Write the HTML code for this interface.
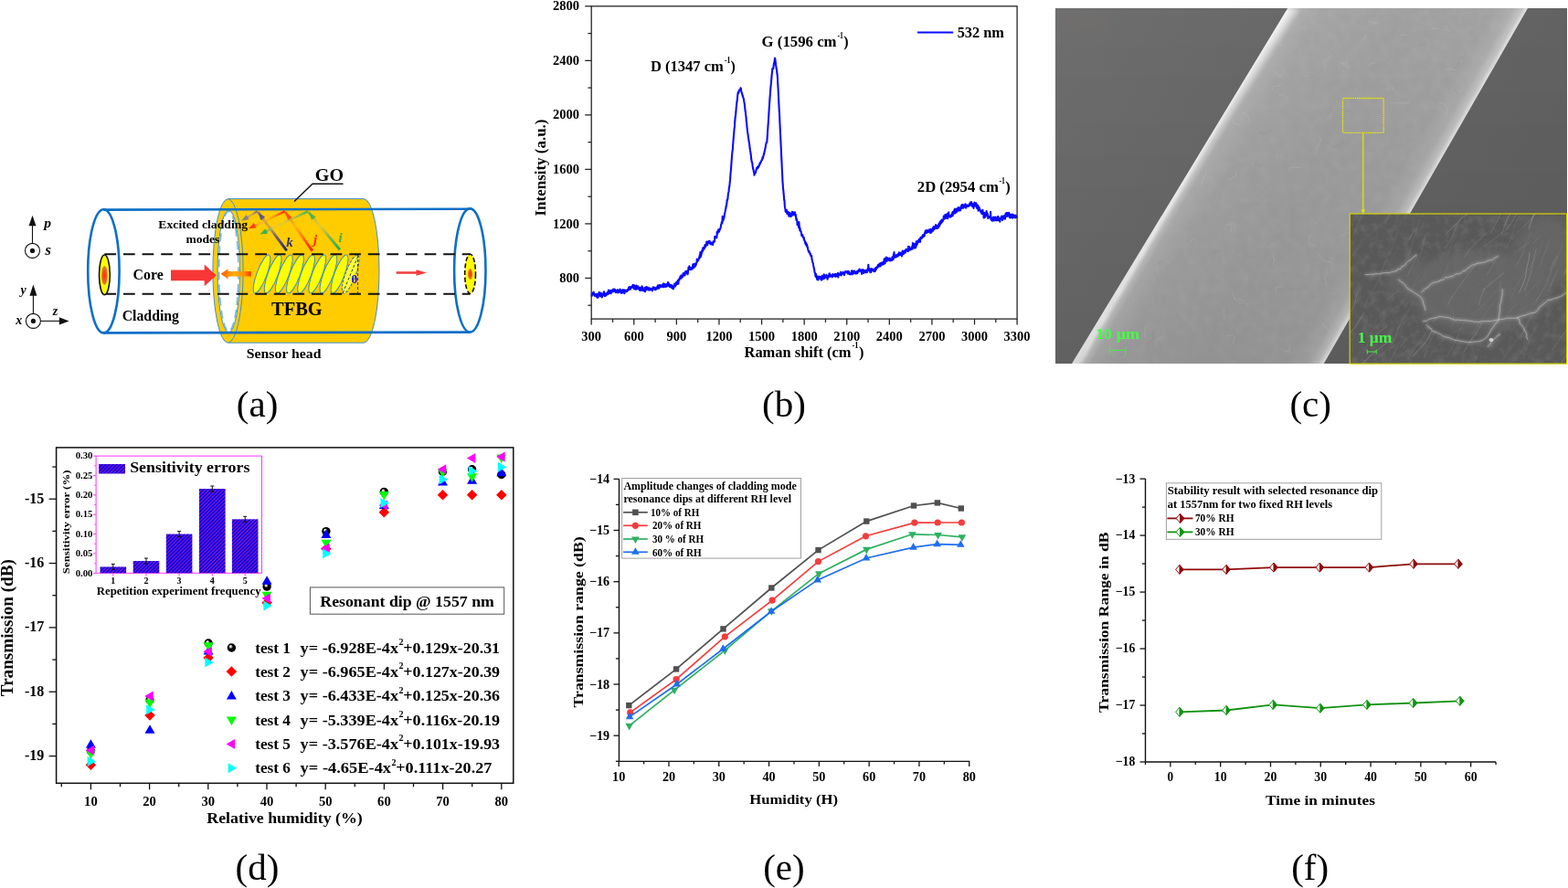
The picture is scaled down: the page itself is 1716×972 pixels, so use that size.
<!DOCTYPE html>
<html><head><meta charset="utf-8"><title>Figure</title>
<style>html,body{margin:0;padding:0;background:#fff;overflow:hidden}svg{display:block}</style>
</head><body>
<svg width="1716" height="972" viewBox="0 0 1716 972"><defs><radialGradient id="ball" cx="0.5" cy="0.5" r="0.5" fx="0.35" fy="0.3"><stop offset="0" stop-color="#fff"/><stop offset="0.22" stop-color="#ccc"/><stop offset="0.5" stop-color="#000"/><stop offset="1" stop-color="#000"/></radialGradient><pattern id="hatch" patternUnits="userSpaceOnUse" width="2.8" height="4" patternTransform="rotate(45)"><rect width="2.8" height="4" fill="#0a00f8"/><rect width="0.9" height="4" fill="#a0209a"/></pattern><radialGradient id="coreg" cx="0.5" cy="0.5" r="0.5"><stop offset="0" stop-color="#ff2a1a"/><stop offset="0.6" stop-color="#f05a20"/><stop offset="1" stop-color="#e08a2a"/></radialGradient><linearGradient id="arrg" x1="0" y1="0" x2="1" y2="0"><stop offset="0" stop-color="#ff5a00"/><stop offset="0.45" stop-color="#ffb000"/><stop offset="0.8" stop-color="#ff8a00"/><stop offset="1" stop-color="#ff3000"/></linearGradient><linearGradient id="gk1" gradientUnits="userSpaceOnUse" x1="313.8" y1="274" x2="281.7" y2="231.3"><stop offset="0" stop-color="#2a2a6a"/><stop offset="0.55" stop-color="#7a6a80"/><stop offset="1" stop-color="#c8a868"/></linearGradient><linearGradient id="gk2" gradientUnits="userSpaceOnUse" x1="281.7" y1="231.3" x2="264" y2="242"><stop offset="0" stop-color="#5a4a70"/><stop offset="1" stop-color="#a09078"/></linearGradient><linearGradient id="gj1" gradientUnits="userSpaceOnUse" x1="341.8" y1="274.7" x2="311.7" y2="231.3"><stop offset="0" stop-color="#ff1a00"/><stop offset="0.6" stop-color="#ff7a20"/><stop offset="1" stop-color="#ff5a10"/></linearGradient><linearGradient id="gj2" gradientUnits="userSpaceOnUse" x1="311.7" y1="231.3" x2="272" y2="250"><stop offset="0" stop-color="#ff2a00"/><stop offset="0.5" stop-color="#ffa000"/><stop offset="1" stop-color="#ff5010"/></linearGradient><linearGradient id="gi1" gradientUnits="userSpaceOnUse" x1="371.9" y1="273.3" x2="336.9" y2="231.3"><stop offset="0" stop-color="#2aa85a"/><stop offset="0.6" stop-color="#b8b060"/><stop offset="1" stop-color="#5ab050"/></linearGradient><linearGradient id="gi2" gradientUnits="userSpaceOnUse" x1="336.9" y1="231.3" x2="285" y2="256"><stop offset="0" stop-color="#4ab050"/><stop offset="0.4" stop-color="#e8c060"/><stop offset="1" stop-color="#6ab84a"/></linearGradient><linearGradient id="gin0" gradientUnits="userSpaceOnUse" x1="313.8" y1="274.4" x2="282.34" y2="232.16"><stop offset="0" stop-color="#26266a" stop-opacity="1"/><stop offset="0.35" stop-color="#5a5080" stop-opacity="0.9"/><stop offset="0.65" stop-color="#b09070" stop-opacity="0.55"/><stop offset="1" stop-color="#7a6a80" stop-opacity="0.8"/></linearGradient><linearGradient id="gout0" gradientUnits="userSpaceOnUse" x1="281.7" y1="231.3" x2="268.49" y2="239.23"><stop offset="0" stop-color="#6a5a80" stop-opacity="0.9"/><stop offset="0.5" stop-color="#b09a80" stop-opacity="0.6"/><stop offset="1" stop-color="#9a8a88" stop-opacity="0.8"/></linearGradient><linearGradient id="gin1" gradientUnits="userSpaceOnUse" x1="341.8" y1="274.7" x2="312.3" y2="232.17"><stop offset="0" stop-color="#ff1a00" stop-opacity="1"/><stop offset="0.35" stop-color="#ff6a10" stop-opacity="0.9"/><stop offset="0.65" stop-color="#ffa020" stop-opacity="0.5"/><stop offset="1" stop-color="#ff5010" stop-opacity="0.9"/></linearGradient><linearGradient id="gout1" gradientUnits="userSpaceOnUse" x1="311.7" y1="231.3" x2="276.42" y2="248.06"><stop offset="0" stop-color="#ff2000" stop-opacity="1"/><stop offset="0.45" stop-color="#ff9a20" stop-opacity="0.6"/><stop offset="0.75" stop-color="#ffb030" stop-opacity="0.4"/><stop offset="1" stop-color="#ff5010" stop-opacity="0.9"/></linearGradient><linearGradient id="gin2" gradientUnits="userSpaceOnUse" x1="371.9" y1="273.3" x2="337.6" y2="232.14"><stop offset="0" stop-color="#18b050" stop-opacity="1"/><stop offset="0.35" stop-color="#60b060" stop-opacity="0.8"/><stop offset="0.65" stop-color="#d0c070" stop-opacity="0.4"/><stop offset="1" stop-color="#50b050" stop-opacity="0.85"/></linearGradient><linearGradient id="gout2" gradientUnits="userSpaceOnUse" x1="336.9" y1="231.3" x2="289.01" y2="254.33"><stop offset="0" stop-color="#40b050" stop-opacity="1"/><stop offset="0.4" stop-color="#a0c060" stop-opacity="0.5"/><stop offset="0.75" stop-color="#d0c878" stop-opacity="0.35"/><stop offset="1" stop-color="#40b050" stop-opacity="0.9"/></linearGradient><clipPath id="semclip"><rect x="1155" y="9" width="560" height="389"/></clipPath><clipPath id="insclip"><rect x="1477.2" y="234" width="237.4" height="164.2"/></clipPath><linearGradient id="semBg" x1="0" y1="0" x2="1" y2="0.3"><stop offset="0" stop-color="#6f6f6f"/><stop offset="0.5" stop-color="#686868"/><stop offset="1" stop-color="#626262"/></linearGradient><linearGradient id="fib" gradientUnits="userSpaceOnUse" x1="1295" y1="200" x2="1496.8" y2="316.5"><stop offset="0" stop-color="#f0f0f0"/><stop offset="0.006" stop-color="#e2e2e2"/><stop offset="0.02" stop-color="#c4c4c4"/><stop offset="0.05" stop-color="#b0b0b0"/><stop offset="0.15" stop-color="#a5a5a5"/><stop offset="0.5" stop-color="#a0a0a0"/><stop offset="0.85" stop-color="#a2a2a2"/><stop offset="0.93" stop-color="#adadad"/><stop offset="0.97" stop-color="#c4c4c4"/><stop offset="0.99" stop-color="#e6e6e6"/><stop offset="1" stop-color="#f2f2f2"/></linearGradient><linearGradient id="semV" x1="0" y1="0" x2="0" y2="1"><stop offset="0" stop-color="#000" stop-opacity="0"/><stop offset="1" stop-color="#000" stop-opacity="0.09"/></linearGradient><filter id="blur3" x="-50%" y="-50%" width="200%" height="200%"><feGaussianBlur stdDeviation="6"/></filter><filter id="blur1" x="-20%" y="-20%" width="140%" height="140%"><feGaussianBlur stdDeviation="0.45"/></filter><filter id="grain" x="0" y="0" width="100%" height="100%"><feTurbulence type="fractalNoise" baseFrequency="0.09" numOctaves="3" seed="4" result="n"/><feColorMatrix in="n" type="matrix" values="0 0 0 0 0.5  0 0 0 0 0.5  0 0 0 0 0.5  1.6 0 0 0 -0.55" result="m"/><feComposite in="m" in2="SourceGraphic" operator="in"/></filter><linearGradient id="hlV" gradientUnits="userSpaceOnUse" x1="0" y1="9" x2="0" y2="398"><stop offset="0" stop-color="#fff" stop-opacity="0.36"/><stop offset="0.35" stop-color="#fff" stop-opacity="0.16"/><stop offset="1" stop-color="#fff" stop-opacity="0.14"/></linearGradient><clipPath id="fibclip"><path d="M1409.3 9 L1671.9 9 L1448.8 398 L1173.1 398 Z"/></clipPath><filter id="blurH" x="-20%" y="-5%" width="140%" height="110%"><feGaussianBlur stdDeviation="2.2"/></filter><filter id="blur2" x="-30%" y="-30%" width="160%" height="160%"><feGaussianBlur stdDeviation="1.6"/></filter><filter id="grain2" x="0" y="0" width="100%" height="100%"><feTurbulence type="fractalNoise" baseFrequency="0.11" numOctaves="3" seed="9" result="n"/><feColorMatrix in="n" type="matrix" values="0 0 0 0 0.6  0 0 0 0 0.6  0 0 0 0 0.6  1.8 0 0 0 -0.75" result="m"/><feComposite in="m" in2="SourceGraphic" operator="in"/></filter></defs><path d="M647.6 324.61 L647.9 321.4 L648.2 322.07 L648.5 322.42 L648.8 320.49 L649.1 321.56 L649.4 321.72 L649.7 319.67 L650 322.51 L650.3 323.14 L650.6 321.66 L650.9 322.27 L651.2 323.95 L651.5 323.12 L651.8 323.37 L652.1 322.11 L652.4 324.38 L652.7 323.79 L653 323.89 L653.3 321.88 L653.6 325.58 L653.9 323.51 L654.2 322.76 L654.5 325.6 L654.8 323.57 L655.1 321.59 L655.4 322.53 L655.7 319.9 L656 323.41 L656.3 321.85 L656.6 322.17 L656.9 324.2 L657.2 320.86 L657.5 323.33 L657.8 320.73 L658.1 322.8 L658.4 322.11 L658.7 325.41 L659 324.9 L659.3 322.47 L659.6 323.43 L659.9 321.83 L660.2 322.6 L660.5 320.43 L660.8 319.58 L661.1 319.27 L661.4 321.89 L661.7 323.99 L662 322.07 L662.3 321.49 L662.6 324.05 L662.9 322.3 L663.2 322.56 L663.5 322.78 L663.8 322.28 L664.1 321.94 L664.4 320.24 L664.7 322.38 L665 321.56 L665.3 320.48 L665.6 320.33 L665.9 317.57 L666.2 319.35 L666.5 321.44 L666.8 319.5 L667.1 318.93 L667.4 318.27 L667.7 318.05 L668 318.81 L668.3 318.09 L668.6 321.1 L668.9 318.31 L669.2 318.2 L669.5 319.48 L669.8 319.6 L670.1 317.52 L670.4 318.7 L670.7 319.11 L671 317.98 L671.3 316.49 L671.6 318.81 L671.9 319.09 L672.2 318.32 L672.5 316.54 L672.8 317.08 L673.1 317.04 L673.4 317.39 L673.7 319.41 L674 320.22 L674.3 318.81 L674.6 319.12 L674.9 319.36 L675.2 318.27 L675.5 317.74 L675.8 317.12 L676.1 317.87 L676.4 320.49 L676.7 319.54 L677 318.02 L677.3 317.98 L677.6 317.73 L677.9 319.53 L678.2 319.35 L678.5 316.63 L678.8 319 L679.1 317.63 L679.4 320.1 L679.7 318.83 L680 320.92 L680.3 317.87 L680.6 318.54 L680.9 319.26 L681.2 320.4 L681.5 319.52 L681.8 317.16 L682.1 318.79 L682.4 318.57 L682.7 318.41 L683 318.15 L683.3 321.14 L683.6 317.95 L683.9 317.33 L684.2 319.3 L684.5 318.68 L684.8 318.17 L685.1 319.13 L685.4 318.46 L685.7 318.38 L686 319.11 L686.3 318.1 L686.6 317 L686.9 317.1 L687.2 317.14 L687.5 317.57 L687.8 315.82 L688.1 314.67 L688.4 317.09 L688.7 315.15 L689 314.05 L689.3 316.4 L689.6 314.92 L689.9 316.61 L690.2 315.13 L690.5 314.41 L690.8 313.95 L691.1 314.95 L691.4 314.75 L691.7 314.13 L692 314.53 L692.3 312.28 L692.6 314.04 L692.9 311.85 L693.2 313.86 L693.5 315 L693.8 315.72 L694.1 316.19 L694.4 312.29 L694.7 315.58 L695 316.55 L695.3 316.22 L695.6 314.1 L695.9 315.25 L696.2 316.76 L696.5 312.6 L696.8 315.44 L697.1 316.22 L697.4 313.98 L697.7 315.45 L698 313.32 L698.3 313.92 L698.6 314.37 L698.9 316.18 L699.2 315.52 L699.5 316.93 L699.8 314.91 L700.1 316.47 L700.4 317.99 L700.7 317.75 L701 314.98 L701.3 317.51 L701.6 316.2 L701.9 317.72 L702.2 317.1 L702.5 313.37 L702.8 316.74 L703.1 314.4 L703.4 315.36 L703.7 317.89 L704 316.87 L704.3 318.3 L704.6 317.77 L704.9 316.46 L705.2 318.57 L705.5 316.26 L705.8 314.71 L706.1 319.13 L706.4 314.48 L706.7 317.1 L707 317.47 L707.3 316.25 L707.6 314.04 L707.9 317.03 L708.2 314.2 L708.5 314.54 L708.8 315.1 L709.1 316.9 L709.4 316.6 L709.7 317.54 L710 316.09 L710.3 316.37 L710.6 315.17 L710.9 316.4 L711.2 317.61 L711.5 316.63 L711.8 317.23 L712.1 315.94 L712.4 315.75 L712.7 316.6 L713 316.35 L713.3 317.25 L713.6 316.94 L713.9 318.37 L714.2 315.79 L714.5 315.6 L714.8 314.22 L715.1 315.74 L715.4 316.45 L715.7 314.57 L716 315.07 L716.3 316.3 L716.6 315.29 L716.9 315.14 L717.2 317.33 L717.5 315.62 L717.8 315.97 L718.1 316.68 L718.4 316.59 L718.7 314.47 L719 314.19 L719.3 314.7 L719.6 314.19 L719.9 312.4 L720.2 315.79 L720.5 314 L720.8 314.7 L721.1 312.45 L721.4 315.52 L721.7 313.51 L722 313.53 L722.3 311.8 L722.6 313.29 L722.9 313.33 L723.2 313.49 L723.5 314.01 L723.8 313.21 L724.1 313.67 L724.4 312.22 L724.7 311.71 L725 313.19 L725.3 313.84 L725.6 314.22 L725.9 313.61 L726.2 310.29 L726.5 313.17 L726.8 314.23 L727.1 312.36 L727.4 311.04 L727.7 312.09 L728 311.41 L728.3 313.2 L728.6 312.47 L728.9 314.04 L729.2 312.71 L729.5 310.99 L729.8 312.72 L730.1 313.11 L730.4 311.38 L730.7 311.38 L731 308.95 L731.3 312.86 L731.6 311.3 L731.9 310.15 L732.2 310.85 L732.5 312.87 L732.8 313.94 L733.1 312.8 L733.4 313.85 L733.7 311.72 L734 311.87 L734.3 314.22 L734.6 313.86 L734.9 313.21 L735.2 315 L735.5 312.19 L735.8 313.63 L736.1 315.39 L736.4 316.12 L736.7 314.1 L737 316.24 L737.3 313.36 L737.6 313.99 L737.9 313.27 L738.2 310.59 L738.5 312.82 L738.8 313.71 L739.1 311.82 L739.4 311.27 L739.7 312.46 L740 309.17 L740.3 308.76 L740.6 309.69 L740.9 308.57 L741.2 310.89 L741.5 308.97 L741.8 307.05 L742.1 306.76 L742.4 310.64 L742.7 306.28 L743 305.47 L743.3 306.17 L743.6 306.34 L743.9 305.34 L744.2 303.51 L744.5 302.69 L744.8 304.64 L745.1 303.74 L745.4 301.47 L745.7 304.52 L746 303.88 L746.3 302.56 L746.6 302.46 L746.9 303.31 L747.2 301.37 L747.5 299.36 L747.8 301.38 L748.1 299.6 L748.4 301.5 L748.7 299.01 L749 300.1 L749.3 299.59 L749.6 301.42 L749.9 298.25 L750.2 297.14 L750.5 297.92 L750.8 296.96 L751.1 297.39 L751.4 298.14 L751.7 298.44 L752 299.46 L752.3 296.37 L752.6 300.31 L752.9 298.6 L753.2 295.86 L753.5 292.91 L753.8 295.14 L754.1 294.83 L754.4 291.41 L754.7 293.91 L755 293.42 L755.3 292.83 L755.6 294.9 L755.9 295.21 L756.2 293.58 L756.5 294.48 L756.8 293.5 L757.1 292.93 L757.4 293.99 L757.7 294.49 L758 291.72 L758.3 289.42 L758.6 292.36 L758.9 289.23 L759.2 291.34 L759.5 293.09 L759.8 290.68 L760.1 288.67 L760.4 288.64 L760.7 291.74 L761 289.97 L761.3 290.47 L761.6 290.17 L761.9 288.67 L762.2 288.07 L762.5 286.89 L762.8 283.51 L763.1 284.31 L763.4 286.11 L763.7 285.22 L764 285.3 L764.3 284.31 L764.6 283.67 L764.9 283.56 L765.2 281.34 L765.5 281.88 L765.8 279.03 L766.1 281.9 L766.4 275.93 L766.7 280 L767 280.77 L767.3 279.57 L767.6 277.47 L767.9 277.67 L768.2 274.22 L768.5 275.54 L768.8 274.44 L769.1 271.6 L769.4 274.46 L769.7 271.64 L770 272.59 L770.3 270.83 L770.6 272.38 L770.9 272.06 L771.2 269.18 L771.5 268 L771.8 269.48 L772.1 270.33 L772.4 268.86 L772.7 267.71 L773 268.6 L773.3 264.65 L773.6 267.54 L773.9 266.6 L774.2 268.26 L774.5 266.2 L774.8 264.94 L775.1 265.72 L775.4 264.02 L775.7 265.39 L776 263.78 L776.3 264.14 L776.6 263.89 L776.9 266.41 L777.2 265.39 L777.5 266.69 L777.8 267.15 L778.1 265.53 L778.4 267.52 L778.7 267.06 L779 266.78 L779.3 265.86 L779.6 265.68 L779.9 266.67 L780.2 268.01 L780.5 264.26 L780.8 265.36 L781.1 263.97 L781.4 265.01 L781.7 264.13 L782 264.19 L782.3 258.81 L782.6 260.39 L782.9 259.51 L783.2 260.36 L783.5 259.48 L783.8 258.99 L784.1 259.6 L784.4 260.3 L784.7 253.89 L785 256.09 L785.3 255.69 L785.6 254.39 L785.9 252.82 L786.2 251.24 L786.5 251.9 L786.8 253.67 L787.1 253.67 L787.4 251.91 L787.7 250.64 L788 251.13 L788.3 249.87 L788.6 249.3 L788.9 247.75 L789.2 245.6 L789.5 245.28 L789.8 243.02 L790.1 244.49 L790.4 244.18 L790.7 236.77 L791 241.83 L791.3 238.99 L791.6 240.91 L791.9 239.69 L792.2 237.72 L792.5 238.1 L792.8 235.57 L793.1 234.01 L793.4 232.48 L793.7 231.14 L794 229.17 L794.3 228.72 L794.6 225.53 L794.9 225.74 L795.2 224.05 L795.5 221.11 L795.8 218.39 L796.1 218.9 L796.4 217.95 L796.7 214.08 L797 211.24 L797.3 210.54 L797.6 209.41 L797.9 205.19 L798.2 204.51 L798.5 202 L798.8 198.92 L799.1 196.38 L799.4 191.07 L799.7 188.25 L800 184.96 L800.3 180.58 L800.6 176.54 L800.9 172.32 L801.2 169.16 L801.5 165.77 L801.8 164.26 L802.1 159.8 L802.4 155.75 L802.7 151.76 L803 147.9 L803.3 145.04 L803.6 140.85 L803.9 139.26 L804.2 133.78 L804.5 130.11 L804.8 127.34 L805.1 125.69 L805.4 122.71 L805.7 118.3 L806 115.59 L806.3 112.56 L806.6 111.06 L806.9 108.37 L807.2 104.77 L807.5 102.02 L807.8 101.26 L808.1 100.37 L808.4 101.75 L808.7 100.24 L809 98.45 L809.3 98.47 L809.6 98.18 L809.9 98.08 L810.2 98.04 L810.5 96.28 L810.8 96.62 L811.1 99.25 L811.4 100.31 L811.7 101.3 L812 102.43 L812.3 102.91 L812.6 104.85 L812.9 104.76 L813.2 106.58 L813.5 107.09 L813.8 107.52 L814.1 110.11 L814.4 111.58 L814.7 112.75 L815 115.66 L815.3 118.58 L815.6 121.32 L815.9 122.9 L816.2 126.14 L816.5 127.59 L816.8 132.86 L817.1 134.5 L817.4 137.86 L817.7 140.92 L818 143.7 L818.3 145.71 L818.6 147.1 L818.9 150.32 L819.2 151.74 L819.5 154.5 L819.8 155.38 L820.1 157.29 L820.4 160.42 L820.7 163.02 L821 164.85 L821.3 166.21 L821.6 168.77 L821.9 170.86 L822.2 174.03 L822.5 175.62 L822.8 177.28 L823.1 177.91 L823.4 179.09 L823.7 181.88 L824 184.17 L824.3 185.09 L824.6 186.05 L824.9 188.11 L825.2 188.56 L825.5 191.74 L825.8 190.04 L826.1 188.95 L826.4 189.11 L826.7 188.66 L827 189.11 L827.3 186.63 L827.6 186.7 L827.9 184.92 L828.2 183.9 L828.5 183.84 L828.8 184.54 L829.1 182.46 L829.4 183.66 L829.7 183.74 L830 181.99 L830.3 182.57 L830.6 181.48 L830.9 181.32 L831.2 179.67 L831.5 180.19 L831.8 178.14 L832.1 178.8 L832.4 177.46 L832.7 177.38 L833 176.99 L833.3 175.65 L833.6 175.28 L833.9 175.14 L834.2 174.62 L834.5 172.41 L834.8 173.29 L835.1 172.22 L835.4 170.49 L835.7 170.47 L836 168.02 L836.3 168.18 L836.6 166 L836.9 165.08 L837.2 164.17 L837.5 161.91 L837.8 160.72 L838.1 158.4 L838.4 157.63 L838.7 156.04 L839 156.05 L839.3 155.6 L839.6 151.64 L839.9 147.71 L840.2 142.51 L840.5 138.22 L840.8 134.02 L841.1 129.84 L841.4 124.3 L841.7 119.31 L842 115.22 L842.3 110.12 L842.6 105.98 L842.9 103.04 L843.2 97.86 L843.5 94.66 L843.8 92.3 L844.1 88.02 L844.4 84.89 L844.7 81.1 L845 79.7 L845.3 75.27 L845.6 74.98 L845.9 74.49 L846.2 75.09 L846.5 73.03 L846.8 71.03 L847.1 68.9 L847.4 67.69 L847.7 65.89 L848 63.53 L848.3 64.47 L848.6 66.55 L848.9 69.13 L849.2 71.71 L849.5 73.46 L849.8 75.8 L850.1 76.82 L850.4 80.56 L850.7 81.99 L851 85.98 L851.3 92.55 L851.6 97.55 L851.9 103.06 L852.2 110.33 L852.5 116.27 L852.8 121.66 L853.1 126.27 L853.4 133.95 L853.7 140.25 L854 146.2 L854.3 152.18 L854.6 158.73 L854.9 165.14 L855.2 172.13 L855.5 177.39 L855.8 184.44 L856.1 189.81 L856.4 197.75 L856.7 201.65 L857 205.93 L857.3 208.42 L857.6 211.64 L857.9 215.02 L858.2 219.05 L858.5 218.97 L858.8 225.14 L859.1 227.4 L859.4 228.75 L859.7 231.77 L860 230.45 L860.3 232.01 L860.6 230.09 L860.9 229.78 L861.2 232.31 L861.5 234.17 L861.8 232.9 L862.1 233.75 L862.4 232.56 L862.7 231.9 L863 233.48 L863.3 236.68 L863.6 233.43 L863.9 234.76 L864.2 233.12 L864.5 235.61 L864.8 236.8 L865.1 234.07 L865.4 234.97 L865.7 237.01 L866 234.86 L866.3 233.77 L866.6 233.27 L866.9 231.8 L867.2 234.75 L867.5 233.27 L867.8 235.54 L868.1 234.51 L868.4 232.63 L868.7 232.37 L869 233.5 L869.3 233.01 L869.6 233.44 L869.9 232.22 L870.2 235.9 L870.5 235.24 L870.8 234.9 L871.1 237.98 L871.4 240.67 L871.7 239.04 L872 241.17 L872.3 241.08 L872.6 246.1 L872.9 244.18 L873.2 244.61 L873.5 244.7 L873.8 245.35 L874.1 249.09 L874.4 242.99 L874.7 247.36 L875 248.39 L875.3 252.09 L875.6 250.01 L875.9 252.21 L876.2 252.76 L876.5 253.9 L876.8 253.77 L877.1 256.42 L877.4 258.05 L877.7 257.02 L878 256.95 L878.3 257 L878.6 259.3 L878.9 259.18 L879.2 260.08 L879.5 260.88 L879.8 259.93 L880.1 262.81 L880.4 262.82 L880.7 263.68 L881 264.87 L881.3 266.43 L881.6 265.8 L881.9 265.42 L882.2 268.36 L882.5 267.45 L882.8 267.72 L883.1 267.29 L883.4 270.51 L883.7 269.95 L884 271.48 L884.3 273.41 L884.6 273.88 L884.9 275.68 L885.2 275.48 L885.5 274.87 L885.8 275.68 L886.1 276.31 L886.4 278.05 L886.7 277.62 L887 277.84 L887.3 280.15 L887.6 280.23 L887.9 280.86 L888.2 279.92 L888.5 283.53 L888.8 284.59 L889.1 286.28 L889.4 287.29 L889.7 287.92 L890 289.78 L890.3 291.5 L890.6 292.57 L890.9 294.12 L891.2 295.22 L891.5 297.84 L891.8 298.63 L892.1 298.82 L892.4 301.89 L892.7 303.01 L893 299.85 L893.3 302.74 L893.6 303.51 L893.9 303.14 L894.2 305.96 L894.5 302.52 L894.8 304.81 L895.1 304.96 L895.4 306.4 L895.7 304.96 L896 303.56 L896.3 302.5 L896.6 303.38 L896.9 304.48 L897.2 304.26 L897.5 303.89 L897.8 303.18 L898.1 303.99 L898.4 305.87 L898.7 303.5 L899 304.92 L899.3 306.57 L899.6 301.72 L899.9 303.68 L900.2 305.27 L900.5 303.36 L900.8 303.61 L901.1 305.05 L901.4 305.15 L901.7 300.37 L902 302.84 L902.3 304.72 L902.6 301.48 L902.9 302.47 L903.2 303.84 L903.5 301.84 L903.8 303.09 L904.1 303.05 L904.4 300.82 L904.7 303.4 L905 302.93 L905.3 304.14 L905.6 305.78 L905.9 303.57 L906.2 302.16 L906.5 302.87 L906.8 302.69 L907.1 303.17 L907.4 299.54 L907.7 300.08 L908 299.37 L908.3 302.78 L908.6 302.15 L908.9 301.28 L909.2 301.18 L909.5 301.7 L909.8 301.54 L910.1 302.37 L910.4 301.46 L910.7 303.35 L911 301.62 L911.3 300.15 L911.6 300.57 L911.9 302.13 L912.2 301.46 L912.5 301.04 L912.8 301.85 L913.1 300.67 L913.4 300.43 L913.7 301.14 L914 299.86 L914.3 303.01 L914.6 301.76 L914.9 301.04 L915.2 300.65 L915.5 302.16 L915.8 300.47 L916.1 300.11 L916.4 302.21 L916.7 299.21 L917 298.85 L917.3 303.55 L917.6 300.07 L917.9 299.91 L918.2 299.76 L918.5 300.26 L918.8 300.7 L919.1 300.84 L919.4 300.13 L919.7 298.98 L920 297.85 L920.3 300.06 L920.6 301.39 L920.9 300.47 L921.2 299.44 L921.5 300.32 L921.8 299.23 L922.1 299.36 L922.4 297.8 L922.7 298.81 L923 299.09 L923.3 298.78 L923.6 299.63 L923.9 301.17 L924.2 299.95 L924.5 298.3 L924.8 297.45 L925.1 296.99 L925.4 297.04 L925.7 297.95 L926 298.23 L926.3 297.57 L926.6 298.13 L926.9 297.93 L927.2 297.41 L927.5 296.92 L927.8 299.58 L928.1 299.01 L928.4 296.86 L928.7 297.07 L929 297.85 L929.3 298.39 L929.6 300.07 L929.9 299.59 L930.2 299.67 L930.5 300.13 L930.8 300.35 L931.1 299.94 L931.4 298.87 L931.7 298.2 L932 296.22 L932.3 298.09 L932.6 300.3 L932.9 297.26 L933.2 296.68 L933.5 298.31 L933.8 297.42 L934.1 296.88 L934.4 299.37 L934.7 298.08 L935 298.48 L935.3 296.56 L935.6 298.35 L935.9 298.5 L936.2 298.88 L936.5 299.64 L936.8 299.5 L937.1 298.37 L937.4 299.14 L937.7 297.13 L938 299.21 L938.3 299.08 L938.6 297.91 L938.9 296.88 L939.2 297.34 L939.5 295.75 L939.8 297.4 L940.1 296.8 L940.4 294.61 L940.7 295.42 L941 296.4 L941.3 296.64 L941.6 296.64 L941.9 295.69 L942.2 295.33 L942.5 295.92 L942.8 297.67 L943.1 299.9 L943.4 298.73 L943.7 298.79 L944 298.76 L944.3 295.04 L944.6 296.65 L944.9 296.23 L945.2 298.02 L945.5 298.84 L945.8 295.95 L946.1 296.76 L946.4 297.46 L946.7 296.34 L947 296.41 L947.3 296.3 L947.6 298.09 L947.9 295.79 L948.2 298.24 L948.5 296.6 L948.8 296.92 L949.1 297.97 L949.4 294.99 L949.7 294.02 L950 295.5 L950.3 289.82 L950.6 293.75 L950.9 295.34 L951.2 296.13 L951.5 294.26 L951.8 295.24 L952.1 297.09 L952.4 298.19 L952.7 294.26 L953 298.27 L953.3 297.27 L953.6 294.67 L953.9 294.06 L954.2 296.11 L954.5 295.03 L954.8 295.47 L955.1 296.26 L955.4 294.94 L955.7 295.19 L956 295.69 L956.3 296.26 L956.6 297.2 L956.9 297.02 L957.2 294.87 L957.5 293.94 L957.8 297.02 L958.1 295.17 L958.4 294.95 L958.7 292.77 L959 294.85 L959.3 292.82 L959.6 292.64 L959.9 291.87 L960.2 292.34 L960.5 292.94 L960.8 290.07 L961.1 290.53 L961.4 291.71 L961.7 289.59 L962 289.81 L962.3 289.88 L962.6 288.52 L962.9 291.48 L963.2 288.68 L963.5 291.37 L963.8 291.27 L964.1 287.89 L964.4 289.66 L964.7 288.65 L965 287.7 L965.3 288.27 L965.6 288.28 L965.9 289.35 L966.2 289.62 L966.5 286.61 L966.8 287.56 L967.1 288.37 L967.4 289.01 L967.7 283.43 L968 288.55 L968.3 282.94 L968.6 288.15 L968.9 285.13 L969.2 284.06 L969.5 285.05 L969.8 281.47 L970.1 285.18 L970.4 281.7 L970.7 285.97 L971 282.33 L971.3 283.48 L971.6 283.46 L971.9 282.78 L972.2 283.13 L972.5 283.48 L972.8 283.9 L973.1 285.14 L973.4 284.64 L973.7 282.51 L974 283.82 L974.3 285.4 L974.6 285.27 L974.9 283.87 L975.2 284.3 L975.5 283.98 L975.8 284.76 L976.1 285.04 L976.4 281.55 L976.7 281.3 L977 283.84 L977.3 283.66 L977.6 284.01 L977.9 278.28 L978.2 281.08 L978.5 276.11 L978.8 281.88 L979.1 280.63 L979.4 280.43 L979.7 279.92 L980 281.55 L980.3 279.39 L980.6 281.38 L980.9 280.87 L981.2 280.86 L981.5 280.83 L981.8 280.28 L982.1 278.53 L982.4 280.76 L982.7 279.74 L983 277.98 L983.3 279.7 L983.6 279.66 L983.9 276.37 L984.2 277.82 L984.5 277.37 L984.8 276.73 L985.1 279.02 L985.4 277.04 L985.7 276.86 L986 277.45 L986.3 277.67 L986.6 277.78 L986.9 280.39 L987.2 276.07 L987.5 276.84 L987.8 274.56 L988.1 277.02 L988.4 278.23 L988.7 278.26 L989 275.17 L989.3 275.04 L989.6 276.83 L989.9 275.18 L990.2 276.67 L990.5 274.04 L990.8 276.72 L991.1 275.63 L991.4 274.39 L991.7 272.73 L992 274.07 L992.3 274 L992.6 274.33 L992.9 272.94 L993.2 272.98 L993.5 273.4 L993.8 275.08 L994.1 269.79 L994.4 270.48 L994.7 270.96 L995 271.62 L995.3 270.18 L995.6 273.62 L995.9 273.08 L996.2 272.86 L996.5 272.01 L996.8 273.17 L997.1 272.13 L997.4 272.68 L997.7 271.07 L998 272.83 L998.3 269.46 L998.6 272.53 L998.9 266.09 L999.2 269.38 L999.5 268.31 L999.8 270.88 L1000.1 266.95 L1000.4 271.54 L1000.7 266.7 L1001 271.51 L1001.3 269.23 L1001.6 268.59 L1001.9 268.77 L1002.2 271.08 L1002.5 269.19 L1002.8 264.41 L1003.1 268.77 L1003.4 267.39 L1003.7 264.25 L1004 266.89 L1004.3 263.77 L1004.6 265.08 L1004.9 265.09 L1005.2 263.19 L1005.5 264.59 L1005.8 261.84 L1006.1 263.42 L1006.4 261.52 L1006.7 261.87 L1007 264.85 L1007.3 261.84 L1007.6 259.72 L1007.9 260.79 L1008.2 259.67 L1008.5 260.32 L1008.8 260.88 L1009.1 260.25 L1009.4 259.58 L1009.7 257.68 L1010 258.75 L1010.3 259.41 L1010.6 256.78 L1010.9 257.17 L1011.2 256.93 L1011.5 258.5 L1011.8 257.75 L1012.1 254.75 L1012.4 255.4 L1012.7 252.64 L1013 252.64 L1013.3 254.05 L1013.6 254.64 L1013.9 254.95 L1014.2 253.2 L1014.5 251.69 L1014.8 254.31 L1015.1 253.19 L1015.4 254.11 L1015.7 253.26 L1016 254.02 L1016.3 252.93 L1016.6 253.18 L1016.9 251.43 L1017.2 253.3 L1017.5 251.25 L1017.8 251.96 L1018.1 254.84 L1018.4 252.62 L1018.7 250.85 L1019 254.72 L1019.3 253.53 L1019.6 253.68 L1019.9 252.19 L1020.2 251.93 L1020.5 250.73 L1020.8 249.39 L1021.1 252.65 L1021.4 249.19 L1021.7 248.63 L1022 248.15 L1022.3 251.26 L1022.6 250.02 L1022.9 248.07 L1023.2 248.37 L1023.5 249.02 L1023.8 249.48 L1024.1 246.06 L1024.4 250.06 L1024.7 248.24 L1025 246.93 L1025.3 247.29 L1025.6 249.03 L1025.9 250.02 L1026.2 247.94 L1026.5 248.29 L1026.8 246.08 L1027.1 247.71 L1027.4 248.75 L1027.7 244.43 L1028 245.46 L1028.3 247.09 L1028.6 242.93 L1028.9 244.56 L1029.2 245.27 L1029.5 241.8 L1029.8 242.59 L1030.1 243.28 L1030.4 244.02 L1030.7 240.46 L1031 242.96 L1031.3 241.35 L1031.6 242.34 L1031.9 241.59 L1032.2 240.31 L1032.5 240.15 L1032.8 236.64 L1033.1 236.69 L1033.4 237.34 L1033.7 237.85 L1034 239.52 L1034.3 235.17 L1034.6 236.76 L1034.9 235.32 L1035.2 234.78 L1035.5 238.73 L1035.8 236.38 L1036.1 238.63 L1036.4 237.69 L1036.7 234.98 L1037 233.73 L1037.3 239.18 L1037.6 235.75 L1037.9 234.89 L1038.2 232.26 L1038.5 236.86 L1038.8 235.82 L1039.1 236.45 L1039.4 237.26 L1039.7 236.99 L1040 237.68 L1040.3 236.19 L1040.6 235.59 L1040.9 237.03 L1041.2 236.37 L1041.5 236.63 L1041.8 234.09 L1042.1 234.29 L1042.4 232.2 L1042.7 236.18 L1043 231.77 L1043.3 233.68 L1043.6 231.23 L1043.9 232.98 L1044.2 233.36 L1044.5 229.52 L1044.8 231.61 L1045.1 228.52 L1045.4 233.51 L1045.7 230.66 L1046 229.11 L1046.3 230.17 L1046.6 232.27 L1046.9 231.98 L1047.2 231.6 L1047.5 228.27 L1047.8 228.44 L1048.1 230.48 L1048.4 227.26 L1048.7 227.67 L1049 227.28 L1049.3 227.19 L1049.6 230.59 L1049.9 229.93 L1050.2 229.13 L1050.5 229.54 L1050.8 229.94 L1051.1 230.25 L1051.4 227.57 L1051.7 226.67 L1052 225.13 L1052.3 227.87 L1052.6 225.66 L1052.9 224.06 L1053.2 225.72 L1053.5 226.21 L1053.8 224.19 L1054.1 227.79 L1054.4 224.87 L1054.7 224.66 L1055 225.62 L1055.3 224.84 L1055.6 225.84 L1055.9 226.56 L1056.2 225.62 L1056.5 223.34 L1056.8 224.05 L1057.1 227.61 L1057.4 224.24 L1057.7 225.96 L1058 226.2 L1058.3 225.22 L1058.6 224.57 L1058.9 225.85 L1059.2 224.85 L1059.5 225.64 L1059.8 225.84 L1060.1 224.66 L1060.4 225.23 L1060.7 224.54 L1061 223.08 L1061.3 224.72 L1061.6 223.29 L1061.9 221.55 L1062.2 223.64 L1062.5 223.37 L1062.8 223.18 L1063.1 221.06 L1063.4 225.2 L1063.7 225.54 L1064 225.84 L1064.3 225.61 L1064.6 223.22 L1064.9 225.51 L1065.2 223.4 L1065.5 228.03 L1065.8 223.83 L1066.1 224.73 L1066.4 221.5 L1066.7 222.26 L1067 223.38 L1067.3 225.58 L1067.6 225.71 L1067.9 225.15 L1068.2 222.18 L1068.5 223.2 L1068.8 223.66 L1069.1 227.6 L1069.4 228.27 L1069.7 226.73 L1070 227.42 L1070.3 224.71 L1070.6 230.77 L1070.9 228.13 L1071.2 229.74 L1071.5 226.91 L1071.8 228.69 L1072.1 228.1 L1072.4 229.65 L1072.7 230.22 L1073 230.53 L1073.3 232.19 L1073.6 231.38 L1073.9 231.6 L1074.2 231.55 L1074.5 234.06 L1074.8 230.67 L1075.1 233.52 L1075.4 229.88 L1075.7 232.05 L1076 234.42 L1076.3 233.65 L1076.6 238.53 L1076.9 238.34 L1077.2 232.86 L1077.5 234.1 L1077.8 235.25 L1078.1 237.89 L1078.4 236.57 L1078.7 235.64 L1079 232.95 L1079.3 233.64 L1079.6 231.02 L1079.9 233.02 L1080.2 236.01 L1080.5 236.54 L1080.8 233.84 L1081.1 236.23 L1081.4 239.05 L1081.7 237.4 L1082 236.89 L1082.3 237.85 L1082.6 238.09 L1082.9 237.93 L1083.2 237.21 L1083.5 237.4 L1083.8 237.69 L1084.1 231.76 L1084.4 240.04 L1084.7 239.83 L1085 240.23 L1085.3 241.54 L1085.6 240.91 L1085.9 240.58 L1086.2 239.19 L1086.5 238.31 L1086.8 241.7 L1087.1 237.6 L1087.4 237.8 L1087.7 237.83 L1088 239.78 L1088.3 240.27 L1088.6 241.34 L1088.9 239.21 L1089.2 237.46 L1089.5 240.16 L1089.8 240.93 L1090.1 239.71 L1090.4 239.14 L1090.7 240.14 L1091 241.44 L1091.3 239.57 L1091.6 237.33 L1091.9 238.83 L1092.2 239.7 L1092.5 236.98 L1092.8 241.17 L1093.1 239.08 L1093.4 241.15 L1093.7 241.15 L1094 240.09 L1094.3 242.67 L1094.6 239.28 L1094.9 238.6 L1095.2 239.05 L1095.5 239.86 L1095.8 238.24 L1096.1 236.61 L1096.4 239.29 L1096.7 239.08 L1097 240.97 L1097.3 237.95 L1097.6 238.93 L1097.9 237.49 L1098.2 236.34 L1098.5 238.26 L1098.8 239.37 L1099.1 236.54 L1099.4 236.91 L1099.7 235.82 L1100 239.73 L1100.3 236.67 L1100.6 233.57 L1100.9 235.71 L1101.2 236.9 L1101.5 235.84 L1101.8 233.15 L1102.1 236.4 L1102.4 236.71 L1102.7 233 L1103 235.45 L1103.3 235.14 L1103.6 234.22 L1103.9 235.22 L1104.2 232.82 L1104.5 236.54 L1104.8 237.92 L1105.1 234.2 L1105.4 236.24 L1105.7 238.47 L1106 236.58 L1106.3 235.53 L1106.6 235.13 L1106.9 236.79 L1107.2 236.44 L1107.5 237.81 L1107.8 234.6 L1108.1 238.63 L1108.4 236.3 L1108.7 238.06 L1109 235.96 L1109.3 235.28 L1109.6 236.05 L1109.9 235.56 L1110.2 236.09 L1110.5 237.5 L1110.8 238.4 L1111.1 236.79 L1111.4 236.14 L1111.7 235.64 L1112 237.35 L1112.3 237.96 L1112.6 236.06" fill="none" stroke="#0a0aff" stroke-width="2.1" stroke-linejoin="round"/><rect x="647.2" y="6.8" width="465.9" height="342.3" fill="none" stroke="#262626" stroke-width="1.3"/><line x1="647.2" y1="349.1" x2="647.2" y2="355.4" stroke="#262626" stroke-width="1.3"/><text x="647.2" y="372.6" text-anchor="middle" textLength="21.75" lengthAdjust="spacingAndGlyphs" style='font-family:"Liberation Serif", "Times New Roman", serif;font-size:14.5px;font-weight:bold;font-style:normal' fill="#000">300</text><line x1="670.5" y1="349.1" x2="670.5" y2="352.9" stroke="#262626" stroke-width="1.3"/><line x1="693.79" y1="349.1" x2="693.79" y2="355.4" stroke="#262626" stroke-width="1.3"/><text x="693.79" y="372.6" text-anchor="middle" textLength="21.75" lengthAdjust="spacingAndGlyphs" style='font-family:"Liberation Serif", "Times New Roman", serif;font-size:14.5px;font-weight:bold;font-style:normal' fill="#000">600</text><line x1="717.09" y1="349.1" x2="717.09" y2="352.9" stroke="#262626" stroke-width="1.3"/><line x1="740.38" y1="349.1" x2="740.38" y2="355.4" stroke="#262626" stroke-width="1.3"/><text x="740.38" y="372.6" text-anchor="middle" textLength="21.75" lengthAdjust="spacingAndGlyphs" style='font-family:"Liberation Serif", "Times New Roman", serif;font-size:14.5px;font-weight:bold;font-style:normal' fill="#000">900</text><line x1="763.67" y1="349.1" x2="763.67" y2="352.9" stroke="#262626" stroke-width="1.3"/><line x1="786.97" y1="349.1" x2="786.97" y2="355.4" stroke="#262626" stroke-width="1.3"/><text x="786.97" y="372.6" text-anchor="middle" textLength="29" lengthAdjust="spacingAndGlyphs" style='font-family:"Liberation Serif", "Times New Roman", serif;font-size:14.5px;font-weight:bold;font-style:normal' fill="#000">1200</text><line x1="810.26" y1="349.1" x2="810.26" y2="352.9" stroke="#262626" stroke-width="1.3"/><line x1="833.56" y1="349.1" x2="833.56" y2="355.4" stroke="#262626" stroke-width="1.3"/><text x="833.56" y="372.6" text-anchor="middle" textLength="29" lengthAdjust="spacingAndGlyphs" style='font-family:"Liberation Serif", "Times New Roman", serif;font-size:14.5px;font-weight:bold;font-style:normal' fill="#000">1500</text><line x1="856.86" y1="349.1" x2="856.86" y2="352.9" stroke="#262626" stroke-width="1.3"/><line x1="880.15" y1="349.1" x2="880.15" y2="355.4" stroke="#262626" stroke-width="1.3"/><text x="880.15" y="372.6" text-anchor="middle" textLength="29" lengthAdjust="spacingAndGlyphs" style='font-family:"Liberation Serif", "Times New Roman", serif;font-size:14.5px;font-weight:bold;font-style:normal' fill="#000">1800</text><line x1="903.44" y1="349.1" x2="903.44" y2="352.9" stroke="#262626" stroke-width="1.3"/><line x1="926.74" y1="349.1" x2="926.74" y2="355.4" stroke="#262626" stroke-width="1.3"/><text x="926.74" y="372.6" text-anchor="middle" textLength="29" lengthAdjust="spacingAndGlyphs" style='font-family:"Liberation Serif", "Times New Roman", serif;font-size:14.5px;font-weight:bold;font-style:normal' fill="#000">2100</text><line x1="950.03" y1="349.1" x2="950.03" y2="352.9" stroke="#262626" stroke-width="1.3"/><line x1="973.33" y1="349.1" x2="973.33" y2="355.4" stroke="#262626" stroke-width="1.3"/><text x="973.33" y="372.6" text-anchor="middle" textLength="29" lengthAdjust="spacingAndGlyphs" style='font-family:"Liberation Serif", "Times New Roman", serif;font-size:14.5px;font-weight:bold;font-style:normal' fill="#000">2400</text><line x1="996.62" y1="349.1" x2="996.62" y2="352.9" stroke="#262626" stroke-width="1.3"/><line x1="1019.92" y1="349.1" x2="1019.92" y2="355.4" stroke="#262626" stroke-width="1.3"/><text x="1019.92" y="372.6" text-anchor="middle" textLength="29" lengthAdjust="spacingAndGlyphs" style='font-family:"Liberation Serif", "Times New Roman", serif;font-size:14.5px;font-weight:bold;font-style:normal' fill="#000">2700</text><line x1="1043.21" y1="349.1" x2="1043.21" y2="352.9" stroke="#262626" stroke-width="1.3"/><line x1="1066.51" y1="349.1" x2="1066.51" y2="355.4" stroke="#262626" stroke-width="1.3"/><text x="1066.51" y="372.6" text-anchor="middle" textLength="29" lengthAdjust="spacingAndGlyphs" style='font-family:"Liberation Serif", "Times New Roman", serif;font-size:14.5px;font-weight:bold;font-style:normal' fill="#000">3000</text><line x1="1089.8" y1="349.1" x2="1089.8" y2="352.9" stroke="#262626" stroke-width="1.3"/><line x1="1113.1" y1="349.1" x2="1113.1" y2="355.4" stroke="#262626" stroke-width="1.3"/><text x="1113.1" y="372.6" text-anchor="middle" textLength="29" lengthAdjust="spacingAndGlyphs" style='font-family:"Liberation Serif", "Times New Roman", serif;font-size:14.5px;font-weight:bold;font-style:normal' fill="#000">3300</text><line x1="647.2" y1="334.22" x2="643.4" y2="334.22" stroke="#262626" stroke-width="1.3"/><line x1="647.2" y1="304.45" x2="640.2" y2="304.45" stroke="#262626" stroke-width="1.3"/><text x="634" y="309.05" text-anchor="end" textLength="21.75" lengthAdjust="spacingAndGlyphs" style='font-family:"Liberation Serif", "Times New Roman", serif;font-size:14.5px;font-weight:bold;font-style:normal' fill="#000">800</text><line x1="647.2" y1="274.69" x2="643.4" y2="274.69" stroke="#262626" stroke-width="1.3"/><line x1="647.2" y1="244.92" x2="640.2" y2="244.92" stroke="#262626" stroke-width="1.3"/><text x="634" y="249.52" text-anchor="end" textLength="29" lengthAdjust="spacingAndGlyphs" style='font-family:"Liberation Serif", "Times New Roman", serif;font-size:14.5px;font-weight:bold;font-style:normal' fill="#000">1200</text><line x1="647.2" y1="215.16" x2="643.4" y2="215.16" stroke="#262626" stroke-width="1.3"/><line x1="647.2" y1="185.39" x2="640.2" y2="185.39" stroke="#262626" stroke-width="1.3"/><text x="634" y="189.99" text-anchor="end" textLength="29" lengthAdjust="spacingAndGlyphs" style='font-family:"Liberation Serif", "Times New Roman", serif;font-size:14.5px;font-weight:bold;font-style:normal' fill="#000">1600</text><line x1="647.2" y1="155.63" x2="643.4" y2="155.63" stroke="#262626" stroke-width="1.3"/><line x1="647.2" y1="125.86" x2="640.2" y2="125.86" stroke="#262626" stroke-width="1.3"/><text x="634" y="130.46" text-anchor="end" textLength="29" lengthAdjust="spacingAndGlyphs" style='font-family:"Liberation Serif", "Times New Roman", serif;font-size:14.5px;font-weight:bold;font-style:normal' fill="#000">2000</text><line x1="647.2" y1="96.1" x2="643.4" y2="96.1" stroke="#262626" stroke-width="1.3"/><line x1="647.2" y1="66.33" x2="640.2" y2="66.33" stroke="#262626" stroke-width="1.3"/><text x="634" y="70.93" text-anchor="end" textLength="29" lengthAdjust="spacingAndGlyphs" style='font-family:"Liberation Serif", "Times New Roman", serif;font-size:14.5px;font-weight:bold;font-style:normal' fill="#000">2400</text><line x1="647.2" y1="36.57" x2="643.4" y2="36.57" stroke="#262626" stroke-width="1.3"/><line x1="647.2" y1="6.8" x2="640.2" y2="6.8" stroke="#262626" stroke-width="1.3"/><text x="634" y="11.4" text-anchor="end" textLength="29" lengthAdjust="spacingAndGlyphs" style='font-family:"Liberation Serif", "Times New Roman", serif;font-size:14.5px;font-weight:bold;font-style:normal' fill="#000">2800</text><text x="814.5" y="390.8" textLength="117" lengthAdjust="spacingAndGlyphs" style='font-family:"Liberation Serif", "Times New Roman", serif;font-size:16.5px;font-weight:bold;font-style:normal' fill="#000">Raman shift (cm</text><text x="932.5" y="381" textLength="7" lengthAdjust="spacingAndGlyphs" style='font-family:"Liberation Serif", "Times New Roman", serif;font-size:10px;font-weight:bold;font-style:normal' fill="#000">-1</text><text x="940" y="390.8" style='font-family:"Liberation Serif", "Times New Roman", serif;font-size:16.5px;font-weight:bold;font-style:normal' fill="#000">)</text><text x="597" y="183.5" text-anchor="middle" textLength="106" lengthAdjust="spacingAndGlyphs" transform="rotate(-90 597 183.5)" style='font-family:"Liberation Serif", "Times New Roman", serif;font-size:17px;font-weight:bold;font-style:normal' fill="#000">Intensity (a.u.)</text><text x="711.9" y="78" textLength="80" lengthAdjust="spacingAndGlyphs" style='font-family:"Liberation Serif", "Times New Roman", serif;font-size:16px;font-weight:bold;font-style:normal' fill="#000">D (1347 cm</text><text x="793" y="68.5" textLength="6.5" lengthAdjust="spacingAndGlyphs" style='font-family:"Liberation Serif", "Times New Roman", serif;font-size:9.5px;font-weight:bold;font-style:normal' fill="#000">-1</text><text x="799.5" y="78" style='font-family:"Liberation Serif", "Times New Roman", serif;font-size:16px;font-weight:bold;font-style:normal' fill="#000">)</text><text x="833.6" y="51" textLength="82" lengthAdjust="spacingAndGlyphs" style='font-family:"Liberation Serif", "Times New Roman", serif;font-size:16px;font-weight:bold;font-style:normal' fill="#000">G (1596 cm</text><text x="916.5" y="41.5" textLength="6.5" lengthAdjust="spacingAndGlyphs" style='font-family:"Liberation Serif", "Times New Roman", serif;font-size:9.5px;font-weight:bold;font-style:normal' fill="#000">-1</text><text x="923.2" y="51" style='font-family:"Liberation Serif", "Times New Roman", serif;font-size:16px;font-weight:bold;font-style:normal' fill="#000">)</text><text x="1003.8" y="210.3" textLength="89" lengthAdjust="spacingAndGlyphs" style='font-family:"Liberation Serif", "Times New Roman", serif;font-size:16.5px;font-weight:bold;font-style:normal' fill="#000">2D (2954 cm</text><text x="1093.5" y="200.5" textLength="6.5" lengthAdjust="spacingAndGlyphs" style='font-family:"Liberation Serif", "Times New Roman", serif;font-size:9.5px;font-weight:bold;font-style:normal' fill="#000">-1</text><text x="1100.3" y="210.3" style='font-family:"Liberation Serif", "Times New Roman", serif;font-size:16.5px;font-weight:bold;font-style:normal' fill="#000">)</text><line x1="1004" y1="35.6" x2="1043.2" y2="35.6" stroke="#0a0aff" stroke-width="2"/><text x="1047.7" y="40.7" textLength="51.3" lengthAdjust="spacingAndGlyphs" style='font-family:"Liberation Serif", "Times New Roman", serif;font-size:16.5px;font-weight:bold;font-style:normal' fill="#000">532 nm</text><rect x="61.6" y="489.9" width="500.2" height="367.4" fill="none" stroke="#111" stroke-width="1.5"/><line x1="67.3" y1="857.3" x2="67.3" y2="861.3" stroke="#111" stroke-width="1.3"/><line x1="99.4" y1="857.3" x2="99.4" y2="864.3" stroke="#111" stroke-width="1.3"/><text x="99.4" y="882" text-anchor="middle" textLength="14.6" lengthAdjust="spacingAndGlyphs" style='font-family:"Liberation Serif", "Times New Roman", serif;font-size:14.5px;font-weight:bold;font-style:normal' fill="#000">10</text><line x1="131.5" y1="857.3" x2="131.5" y2="861.3" stroke="#111" stroke-width="1.3"/><line x1="163.6" y1="857.3" x2="163.6" y2="864.3" stroke="#111" stroke-width="1.3"/><text x="163.6" y="882" text-anchor="middle" textLength="14.6" lengthAdjust="spacingAndGlyphs" style='font-family:"Liberation Serif", "Times New Roman", serif;font-size:14.5px;font-weight:bold;font-style:normal' fill="#000">20</text><line x1="195.7" y1="857.3" x2="195.7" y2="861.3" stroke="#111" stroke-width="1.3"/><line x1="227.8" y1="857.3" x2="227.8" y2="864.3" stroke="#111" stroke-width="1.3"/><text x="227.8" y="882" text-anchor="middle" textLength="14.6" lengthAdjust="spacingAndGlyphs" style='font-family:"Liberation Serif", "Times New Roman", serif;font-size:14.5px;font-weight:bold;font-style:normal' fill="#000">30</text><line x1="259.9" y1="857.3" x2="259.9" y2="861.3" stroke="#111" stroke-width="1.3"/><line x1="292" y1="857.3" x2="292" y2="864.3" stroke="#111" stroke-width="1.3"/><text x="292" y="882" text-anchor="middle" textLength="14.6" lengthAdjust="spacingAndGlyphs" style='font-family:"Liberation Serif", "Times New Roman", serif;font-size:14.5px;font-weight:bold;font-style:normal' fill="#000">40</text><line x1="324.1" y1="857.3" x2="324.1" y2="861.3" stroke="#111" stroke-width="1.3"/><line x1="356.2" y1="857.3" x2="356.2" y2="864.3" stroke="#111" stroke-width="1.3"/><text x="356.2" y="882" text-anchor="middle" textLength="14.6" lengthAdjust="spacingAndGlyphs" style='font-family:"Liberation Serif", "Times New Roman", serif;font-size:14.5px;font-weight:bold;font-style:normal' fill="#000">50</text><line x1="388.3" y1="857.3" x2="388.3" y2="861.3" stroke="#111" stroke-width="1.3"/><line x1="420.4" y1="857.3" x2="420.4" y2="864.3" stroke="#111" stroke-width="1.3"/><text x="420.4" y="882" text-anchor="middle" textLength="14.6" lengthAdjust="spacingAndGlyphs" style='font-family:"Liberation Serif", "Times New Roman", serif;font-size:14.5px;font-weight:bold;font-style:normal' fill="#000">60</text><line x1="452.5" y1="857.3" x2="452.5" y2="861.3" stroke="#111" stroke-width="1.3"/><line x1="484.6" y1="857.3" x2="484.6" y2="864.3" stroke="#111" stroke-width="1.3"/><text x="484.6" y="882" text-anchor="middle" textLength="14.6" lengthAdjust="spacingAndGlyphs" style='font-family:"Liberation Serif", "Times New Roman", serif;font-size:14.5px;font-weight:bold;font-style:normal' fill="#000">70</text><line x1="516.7" y1="857.3" x2="516.7" y2="861.3" stroke="#111" stroke-width="1.3"/><line x1="548.8" y1="857.3" x2="548.8" y2="864.3" stroke="#111" stroke-width="1.3"/><text x="548.8" y="882" text-anchor="middle" textLength="14.6" lengthAdjust="spacingAndGlyphs" style='font-family:"Liberation Serif", "Times New Roman", serif;font-size:14.5px;font-weight:bold;font-style:normal' fill="#000">80</text><line x1="61.6" y1="511.03" x2="57.3" y2="511.03" stroke="#111" stroke-width="1.3"/><line x1="61.6" y1="546.2" x2="53.6" y2="546.2" stroke="#111" stroke-width="1.3"/><text x="48.3" y="550.5" text-anchor="end" textLength="21.4" lengthAdjust="spacingAndGlyphs" style='font-family:"Liberation Serif", "Times New Roman", serif;font-size:16px;font-weight:bold;font-style:normal' fill="#000">-15</text><line x1="61.6" y1="581.38" x2="57.3" y2="581.38" stroke="#111" stroke-width="1.3"/><line x1="61.6" y1="616.55" x2="53.6" y2="616.55" stroke="#111" stroke-width="1.3"/><text x="48.3" y="620.85" text-anchor="end" textLength="21.4" lengthAdjust="spacingAndGlyphs" style='font-family:"Liberation Serif", "Times New Roman", serif;font-size:16px;font-weight:bold;font-style:normal' fill="#000">-16</text><line x1="61.6" y1="651.73" x2="57.3" y2="651.73" stroke="#111" stroke-width="1.3"/><line x1="61.6" y1="686.9" x2="53.6" y2="686.9" stroke="#111" stroke-width="1.3"/><text x="48.3" y="691.2" text-anchor="end" textLength="21.4" lengthAdjust="spacingAndGlyphs" style='font-family:"Liberation Serif", "Times New Roman", serif;font-size:16px;font-weight:bold;font-style:normal' fill="#000">-17</text><line x1="61.6" y1="722.08" x2="57.3" y2="722.08" stroke="#111" stroke-width="1.3"/><line x1="61.6" y1="757.25" x2="53.6" y2="757.25" stroke="#111" stroke-width="1.3"/><text x="48.3" y="761.55" text-anchor="end" textLength="21.4" lengthAdjust="spacingAndGlyphs" style='font-family:"Liberation Serif", "Times New Roman", serif;font-size:16px;font-weight:bold;font-style:normal' fill="#000">-18</text><line x1="61.6" y1="792.42" x2="57.3" y2="792.42" stroke="#111" stroke-width="1.3"/><line x1="61.6" y1="827.6" x2="53.6" y2="827.6" stroke="#111" stroke-width="1.3"/><text x="48.3" y="831.9" text-anchor="end" textLength="21.4" lengthAdjust="spacingAndGlyphs" style='font-family:"Liberation Serif", "Times New Roman", serif;font-size:16px;font-weight:bold;font-style:normal' fill="#000">-19</text><text x="226.3" y="901" textLength="170.5" lengthAdjust="spacingAndGlyphs" style='font-family:"Liberation Serif", "Times New Roman", serif;font-size:17.5px;font-weight:bold;font-style:normal' fill="#000">Relative humidity (%)</text><text x="14" y="687.2" text-anchor="middle" textLength="150" lengthAdjust="spacingAndGlyphs" transform="rotate(-90 14 687.2)" style='font-family:"Liberation Serif", "Times New Roman", serif;font-size:18px;font-weight:bold;font-style:normal' fill="#000">Transmission (dB)</text><circle cx="99.4" cy="822" r="4.7" fill="url(#ball)"/><path d="M99.4 831.55 L105.15 837.3 L99.4 843.05 L93.65 837.3Z" fill="#ff0000" stroke="none" stroke-width="1"/><path d="M99.4 809.3 L104.9 818.8 L93.9 818.8Z" fill="#0000ff" stroke="none" stroke-width="1"/><path d="M99.4 830.7 L104.9 821.2 L93.9 821.2Z" fill="#00ff00" stroke="none" stroke-width="1"/><path d="M93.7 821.2 L103.2 815.7 L103.2 826.7Z" fill="#ff00ff" stroke="none" stroke-width="1"/><path d="M105.1 833.6 L95.6 828.1 L95.6 839.1Z" fill="#00ffff" stroke="none" stroke-width="1"/><circle cx="164" cy="766.2" r="4.7" fill="url(#ball)"/><path d="M164 777.25 L169.75 783 L164 788.75 L158.25 783Z" fill="#ff0000" stroke="none" stroke-width="1"/><path d="M164 793.3 L169.5 802.8 L158.5 802.8Z" fill="#0000ff" stroke="none" stroke-width="1"/><path d="M164 775.1 L169.5 765.6 L158.5 765.6Z" fill="#00ff00" stroke="none" stroke-width="1"/><path d="M158.3 762 L167.8 756.5 L167.8 767.5Z" fill="#ff00ff" stroke="none" stroke-width="1"/><path d="M169.7 776.8 L160.2 771.3 L160.2 782.3Z" fill="#00ffff" stroke="none" stroke-width="1"/><circle cx="228.1" cy="704" r="4.7" fill="url(#ball)"/><path d="M228.1 714.25 L233.85 720 L228.1 725.75 L222.35 720Z" fill="#ff0000" stroke="none" stroke-width="1"/><path d="M228.1 706.9 L233.6 716.4 L222.6 716.4Z" fill="#0000ff" stroke="none" stroke-width="1"/><path d="M228.1 712.7 L233.6 703.2 L222.6 703.2Z" fill="#00ff00" stroke="none" stroke-width="1"/><path d="M222.4 713.3 L231.9 707.8 L231.9 718.8Z" fill="#ff00ff" stroke="none" stroke-width="1"/><path d="M233.8 725 L224.3 719.5 L224.3 730.5Z" fill="#00ffff" stroke="none" stroke-width="1"/><circle cx="292.1" cy="642.1" r="4.7" fill="url(#ball)"/><path d="M292.1 654.05 L297.85 659.8 L292.1 665.55 L286.35 659.8Z" fill="#ff0000" stroke="none" stroke-width="1"/><path d="M292.1 630.2 L297.6 639.7 L286.6 639.7Z" fill="#0000ff" stroke="none" stroke-width="1"/><path d="M292.1 657.3 L297.6 647.8 L286.6 647.8Z" fill="#00ff00" stroke="none" stroke-width="1"/><path d="M286.4 655 L295.9 649.5 L295.9 660.5Z" fill="#ff00ff" stroke="none" stroke-width="1"/><path d="M297.8 663.1 L288.3 657.6 L288.3 668.6Z" fill="#00ffff" stroke="none" stroke-width="1"/><circle cx="356.9" cy="581.6" r="4.7" fill="url(#ball)"/><path d="M356.9 594.95 L362.65 600.7 L356.9 606.45 L351.15 600.7Z" fill="#ff0000" stroke="none" stroke-width="1"/><path d="M356.9 579.6 L362.4 589.1 L351.4 589.1Z" fill="#0000ff" stroke="none" stroke-width="1"/><path d="M356.9 600.3 L362.4 590.8 L351.4 590.8Z" fill="#00ff00" stroke="none" stroke-width="1"/><path d="M351.2 600.1 L360.7 594.6 L360.7 605.6Z" fill="#ff00ff" stroke="none" stroke-width="1"/><path d="M362.6 605.9 L353.1 600.4 L353.1 611.4Z" fill="#00ffff" stroke="none" stroke-width="1"/><circle cx="420.3" cy="538.4" r="4.7" fill="url(#ball)"/><path d="M420.3 554.95 L426.05 560.7 L420.3 566.45 L414.55 560.7Z" fill="#ff0000" stroke="none" stroke-width="1"/><path d="M420.3 547.6 L425.8 557.1 L414.8 557.1Z" fill="#0000ff" stroke="none" stroke-width="1"/><path d="M420.3 547.4 L425.8 537.9 L414.8 537.9Z" fill="#00ff00" stroke="none" stroke-width="1"/><path d="M414.6 553 L424.1 547.5 L424.1 558.5Z" fill="#ff00ff" stroke="none" stroke-width="1"/><path d="M426 550.5 L416.5 545 L416.5 556Z" fill="#00ffff" stroke="none" stroke-width="1"/><circle cx="484.5" cy="516.2" r="4.7" fill="url(#ball)"/><path d="M484.5 535.95 L490.25 541.7 L484.5 547.45 L478.75 541.7Z" fill="#ff0000" stroke="none" stroke-width="1"/><path d="M484.5 522 L490 531.5 L479 531.5Z" fill="#0000ff" stroke="none" stroke-width="1"/><path d="M484.5 522.7 L490 513.2 L479 513.2Z" fill="#00ff00" stroke="none" stroke-width="1"/><path d="M478.8 513.7 L488.3 508.2 L488.3 519.2Z" fill="#ff00ff" stroke="none" stroke-width="1"/><path d="M490.2 524.8 L480.7 519.3 L480.7 530.3Z" fill="#00ffff" stroke="none" stroke-width="1"/><circle cx="516.6" cy="513.7" r="4.7" fill="url(#ball)"/><path d="M516.6 535.95 L522.35 541.7 L516.6 547.45 L510.85 541.7Z" fill="#ff0000" stroke="none" stroke-width="1"/><path d="M516.6 520.3 L522.1 529.8 L511.1 529.8Z" fill="#0000ff" stroke="none" stroke-width="1"/><path d="M516.6 527.7 L522.1 518.2 L511.1 518.2Z" fill="#00ff00" stroke="none" stroke-width="1"/><path d="M510.9 501.4 L520.4 495.9 L520.4 506.9Z" fill="#ff00ff" stroke="none" stroke-width="1"/><path d="M522.3 515.4 L512.8 509.9 L512.8 520.9Z" fill="#00ffff" stroke="none" stroke-width="1"/><circle cx="548.8" cy="519.5" r="4.7" fill="url(#ball)"/><path d="M548.8 535.95 L554.55 541.7 L548.8 547.45 L543.05 541.7Z" fill="#ff0000" stroke="none" stroke-width="1"/><path d="M548.8 511.8 L554.3 521.3 L543.3 521.3Z" fill="#0000ff" stroke="none" stroke-width="1"/><path d="M548.8 507.1 L554.3 497.6 L543.3 497.6Z" fill="#00ff00" stroke="none" stroke-width="1"/><path d="M543.1 500.1 L552.6 494.6 L552.6 505.6Z" fill="#ff00ff" stroke="none" stroke-width="1"/><path d="M554.5 511.3 L545 505.8 L545 516.8Z" fill="#00ffff" stroke="none" stroke-width="1"/><circle cx="253.4" cy="709" r="4.7" fill="url(#ball)"/><text x="279.2" y="714.6" textLength="38.8" lengthAdjust="spacingAndGlyphs" style='font-family:"Liberation Serif", "Times New Roman", serif;font-size:17px;font-weight:bold;font-style:normal' fill="#000">test 1</text><text x="328.6" y="714.6" textLength="107.5" lengthAdjust="spacingAndGlyphs" style='font-family:"Liberation Serif", "Times New Roman", serif;font-size:17px;font-weight:bold;font-style:normal' fill="#000">y= -6.928E-4x</text><text x="436.4" y="705.8" textLength="5" lengthAdjust="spacingAndGlyphs" style='font-family:"Liberation Serif", "Times New Roman", serif;font-size:10px;font-weight:bold;font-style:normal' fill="#000">2</text><text x="441.3" y="714.6" textLength="105.8" lengthAdjust="spacingAndGlyphs" style='font-family:"Liberation Serif", "Times New Roman", serif;font-size:17px;font-weight:bold;font-style:normal' fill="#000">+0.129x-20.31</text><path d="M253.4 729.35 L259.15 735.1 L253.4 740.85 L247.65 735.1Z" fill="#ff0000" stroke="none" stroke-width="1"/><text x="279.2" y="740.7" textLength="38.8" lengthAdjust="spacingAndGlyphs" style='font-family:"Liberation Serif", "Times New Roman", serif;font-size:17px;font-weight:bold;font-style:normal' fill="#000">test 2</text><text x="328.6" y="740.7" textLength="107.5" lengthAdjust="spacingAndGlyphs" style='font-family:"Liberation Serif", "Times New Roman", serif;font-size:17px;font-weight:bold;font-style:normal' fill="#000">y= -6.965E-4x</text><text x="436.4" y="731.9" textLength="5" lengthAdjust="spacingAndGlyphs" style='font-family:"Liberation Serif", "Times New Roman", serif;font-size:10px;font-weight:bold;font-style:normal' fill="#000">2</text><text x="441.3" y="740.7" textLength="105.8" lengthAdjust="spacingAndGlyphs" style='font-family:"Liberation Serif", "Times New Roman", serif;font-size:17px;font-weight:bold;font-style:normal' fill="#000">+0.127x-20.39</text><path d="M253.4 756.1 L258.9 765.6 L247.9 765.6Z" fill="#0000ff" stroke="none" stroke-width="1"/><text x="279.2" y="767.4" textLength="38.8" lengthAdjust="spacingAndGlyphs" style='font-family:"Liberation Serif", "Times New Roman", serif;font-size:17px;font-weight:bold;font-style:normal' fill="#000">test 3</text><text x="328.6" y="767.4" textLength="107.5" lengthAdjust="spacingAndGlyphs" style='font-family:"Liberation Serif", "Times New Roman", serif;font-size:17px;font-weight:bold;font-style:normal' fill="#000">y= -6.433E-4x</text><text x="436.4" y="758.6" textLength="5" lengthAdjust="spacingAndGlyphs" style='font-family:"Liberation Serif", "Times New Roman", serif;font-size:10px;font-weight:bold;font-style:normal' fill="#000">2</text><text x="441.3" y="767.4" textLength="105.8" lengthAdjust="spacingAndGlyphs" style='font-family:"Liberation Serif", "Times New Roman", serif;font-size:17px;font-weight:bold;font-style:normal' fill="#000">+0.125x-20.36</text><path d="M253.4 794 L258.9 784.5 L247.9 784.5Z" fill="#00ff00" stroke="none" stroke-width="1"/><text x="279.2" y="793.9" textLength="38.8" lengthAdjust="spacingAndGlyphs" style='font-family:"Liberation Serif", "Times New Roman", serif;font-size:17px;font-weight:bold;font-style:normal' fill="#000">test 4</text><text x="328.6" y="793.9" textLength="107.5" lengthAdjust="spacingAndGlyphs" style='font-family:"Liberation Serif", "Times New Roman", serif;font-size:17px;font-weight:bold;font-style:normal' fill="#000">y= -5.339E-4x</text><text x="436.4" y="785.1" textLength="5" lengthAdjust="spacingAndGlyphs" style='font-family:"Liberation Serif", "Times New Roman", serif;font-size:10px;font-weight:bold;font-style:normal' fill="#000">2</text><text x="441.3" y="793.9" textLength="105.8" lengthAdjust="spacingAndGlyphs" style='font-family:"Liberation Serif", "Times New Roman", serif;font-size:17px;font-weight:bold;font-style:normal' fill="#000">+0.116x-20.19</text><path d="M247.7 814.4 L257.2 808.9 L257.2 819.9Z" fill="#ff00ff" stroke="none" stroke-width="1"/><text x="279.2" y="820" textLength="38.8" lengthAdjust="spacingAndGlyphs" style='font-family:"Liberation Serif", "Times New Roman", serif;font-size:17px;font-weight:bold;font-style:normal' fill="#000">test 5</text><text x="328.6" y="820" textLength="107.5" lengthAdjust="spacingAndGlyphs" style='font-family:"Liberation Serif", "Times New Roman", serif;font-size:17px;font-weight:bold;font-style:normal' fill="#000">y= -3.576E-4x</text><text x="436.4" y="811.2" textLength="5" lengthAdjust="spacingAndGlyphs" style='font-family:"Liberation Serif", "Times New Roman", serif;font-size:10px;font-weight:bold;font-style:normal' fill="#000">2</text><text x="441.3" y="820" textLength="105.8" lengthAdjust="spacingAndGlyphs" style='font-family:"Liberation Serif", "Times New Roman", serif;font-size:17px;font-weight:bold;font-style:normal' fill="#000">+0.101x-19.93</text><path d="M259.1 840.7 L249.6 835.2 L249.6 846.2Z" fill="#00ffff" stroke="none" stroke-width="1"/><text x="279.2" y="846.3" textLength="38.8" lengthAdjust="spacingAndGlyphs" style='font-family:"Liberation Serif", "Times New Roman", serif;font-size:17px;font-weight:bold;font-style:normal' fill="#000">test 6</text><text x="328.6" y="846.3" textLength="99.5" lengthAdjust="spacingAndGlyphs" style='font-family:"Liberation Serif", "Times New Roman", serif;font-size:17px;font-weight:bold;font-style:normal' fill="#000">y= -4.65E-4x</text><text x="428.4" y="837.5" textLength="5" lengthAdjust="spacingAndGlyphs" style='font-family:"Liberation Serif", "Times New Roman", serif;font-size:10px;font-weight:bold;font-style:normal' fill="#000">2</text><text x="433.3" y="846.3" textLength="105" lengthAdjust="spacingAndGlyphs" style='font-family:"Liberation Serif", "Times New Roman", serif;font-size:17px;font-weight:bold;font-style:normal' fill="#000">+0.111x-20.27</text><rect x="339.4" y="642.9" width="212.3" height="29.3" fill="#fff" stroke="#555" stroke-width="1"/><text x="350.3" y="664" textLength="190.6" lengthAdjust="spacingAndGlyphs" style='font-family:"Liberation Serif", "Times New Roman", serif;font-size:17.5px;font-weight:bold;font-style:normal' fill="#000">Resonant dip @ 1557 nm</text><rect x="105.1" y="499.1" width="181.4" height="128.2" fill="#fff" stroke="#ff33ff" stroke-width="1"/><rect x="109.5" y="620.46" width="28.6" height="6.84" fill="url(#hatch)"/><line x1="123.8" y1="617.46" x2="123.8" y2="623.46" stroke="#111" stroke-width="1"/><line x1="121.8" y1="617.46" x2="125.8" y2="617.46" stroke="#111" stroke-width="1"/><line x1="121.8" y1="623.46" x2="125.8" y2="623.46" stroke="#111" stroke-width="1"/><line x1="123.8" y1="627.3" x2="123.8" y2="630.3" stroke="#ff33ff" stroke-width="1"/><text x="123.8" y="638.7" text-anchor="middle" textLength="5" lengthAdjust="spacingAndGlyphs" style='font-family:"Liberation Serif", "Times New Roman", serif;font-size:9.5px;font-weight:bold;font-style:normal' fill="#000">1</text><rect x="145.7" y="614.05" width="28.6" height="13.25" fill="url(#hatch)"/><line x1="160" y1="611.05" x2="160" y2="617.05" stroke="#111" stroke-width="1"/><line x1="158" y1="611.05" x2="162" y2="611.05" stroke="#111" stroke-width="1"/><line x1="158" y1="617.05" x2="162" y2="617.05" stroke="#111" stroke-width="1"/><line x1="160" y1="627.3" x2="160" y2="630.3" stroke="#ff33ff" stroke-width="1"/><text x="160" y="638.7" text-anchor="middle" textLength="5" lengthAdjust="spacingAndGlyphs" style='font-family:"Liberation Serif", "Times New Roman", serif;font-size:9.5px;font-weight:bold;font-style:normal' fill="#000">2</text><rect x="181.8" y="584.57" width="28.6" height="42.73" fill="url(#hatch)"/><line x1="196.1" y1="581.57" x2="196.1" y2="587.57" stroke="#111" stroke-width="1"/><line x1="194.1" y1="581.57" x2="198.1" y2="581.57" stroke="#111" stroke-width="1"/><line x1="194.1" y1="587.57" x2="198.1" y2="587.57" stroke="#111" stroke-width="1"/><line x1="196.1" y1="627.3" x2="196.1" y2="630.3" stroke="#ff33ff" stroke-width="1"/><text x="196.1" y="638.7" text-anchor="middle" textLength="5" lengthAdjust="spacingAndGlyphs" style='font-family:"Liberation Serif", "Times New Roman", serif;font-size:9.5px;font-weight:bold;font-style:normal' fill="#000">3</text><rect x="218" y="535" width="28.6" height="92.3" fill="url(#hatch)"/><line x1="232.3" y1="532" x2="232.3" y2="538" stroke="#111" stroke-width="1"/><line x1="230.3" y1="532" x2="234.3" y2="532" stroke="#111" stroke-width="1"/><line x1="230.3" y1="538" x2="234.3" y2="538" stroke="#111" stroke-width="1"/><line x1="232.3" y1="627.3" x2="232.3" y2="630.3" stroke="#ff33ff" stroke-width="1"/><text x="232.3" y="638.7" text-anchor="middle" textLength="5" lengthAdjust="spacingAndGlyphs" style='font-family:"Liberation Serif", "Times New Roman", serif;font-size:9.5px;font-weight:bold;font-style:normal' fill="#000">4</text><rect x="253.9" y="568.33" width="28.6" height="58.97" fill="url(#hatch)"/><line x1="268.2" y1="565.33" x2="268.2" y2="571.33" stroke="#111" stroke-width="1"/><line x1="266.2" y1="565.33" x2="270.2" y2="565.33" stroke="#111" stroke-width="1"/><line x1="266.2" y1="571.33" x2="270.2" y2="571.33" stroke="#111" stroke-width="1"/><line x1="268.2" y1="627.3" x2="268.2" y2="630.3" stroke="#ff33ff" stroke-width="1"/><text x="268.2" y="638.7" text-anchor="middle" textLength="5" lengthAdjust="spacingAndGlyphs" style='font-family:"Liberation Serif", "Times New Roman", serif;font-size:9.5px;font-weight:bold;font-style:normal' fill="#000">5</text><line x1="105.1" y1="627.3" x2="102.1" y2="627.3" stroke="#ff33ff" stroke-width="1"/><text x="101.5" y="630.5" text-anchor="end" textLength="18.8" lengthAdjust="spacingAndGlyphs" style='font-family:"Liberation Serif", "Times New Roman", serif;font-size:9.5px;font-weight:bold;font-style:normal' fill="#000">0.00</text><line x1="105.1" y1="616.62" x2="103.1" y2="616.62" stroke="#ff33ff" stroke-width="0.8"/><line x1="105.1" y1="605.93" x2="102.1" y2="605.93" stroke="#ff33ff" stroke-width="1"/><text x="101.5" y="609.13" text-anchor="end" textLength="18.8" lengthAdjust="spacingAndGlyphs" style='font-family:"Liberation Serif", "Times New Roman", serif;font-size:9.5px;font-weight:bold;font-style:normal' fill="#000">0.05</text><line x1="105.1" y1="595.25" x2="103.1" y2="595.25" stroke="#ff33ff" stroke-width="0.8"/><line x1="105.1" y1="584.57" x2="102.1" y2="584.57" stroke="#ff33ff" stroke-width="1"/><text x="101.5" y="587.77" text-anchor="end" textLength="18.8" lengthAdjust="spacingAndGlyphs" style='font-family:"Liberation Serif", "Times New Roman", serif;font-size:9.5px;font-weight:bold;font-style:normal' fill="#000">0.10</text><line x1="105.1" y1="573.88" x2="103.1" y2="573.88" stroke="#ff33ff" stroke-width="0.8"/><line x1="105.1" y1="563.2" x2="102.1" y2="563.2" stroke="#ff33ff" stroke-width="1"/><text x="101.5" y="566.4" text-anchor="end" textLength="18.8" lengthAdjust="spacingAndGlyphs" style='font-family:"Liberation Serif", "Times New Roman", serif;font-size:9.5px;font-weight:bold;font-style:normal' fill="#000">0.15</text><line x1="105.1" y1="552.52" x2="103.1" y2="552.52" stroke="#ff33ff" stroke-width="0.8"/><line x1="105.1" y1="541.83" x2="102.1" y2="541.83" stroke="#ff33ff" stroke-width="1"/><text x="101.5" y="545.03" text-anchor="end" textLength="18.8" lengthAdjust="spacingAndGlyphs" style='font-family:"Liberation Serif", "Times New Roman", serif;font-size:9.5px;font-weight:bold;font-style:normal' fill="#000">0.20</text><line x1="105.1" y1="531.15" x2="103.1" y2="531.15" stroke="#ff33ff" stroke-width="0.8"/><line x1="105.1" y1="520.47" x2="102.1" y2="520.47" stroke="#ff33ff" stroke-width="1"/><text x="101.5" y="523.67" text-anchor="end" textLength="18.8" lengthAdjust="spacingAndGlyphs" style='font-family:"Liberation Serif", "Times New Roman", serif;font-size:9.5px;font-weight:bold;font-style:normal' fill="#000">0.25</text><line x1="105.1" y1="509.78" x2="103.1" y2="509.78" stroke="#ff33ff" stroke-width="0.8"/><line x1="105.1" y1="499.1" x2="102.1" y2="499.1" stroke="#ff33ff" stroke-width="1"/><text x="101.5" y="502.3" text-anchor="end" textLength="18.8" lengthAdjust="spacingAndGlyphs" style='font-family:"Liberation Serif", "Times New Roman", serif;font-size:9.5px;font-weight:bold;font-style:normal' fill="#000">0.30</text><text x="75.8" y="571.3" text-anchor="middle" textLength="113.7" lengthAdjust="spacingAndGlyphs" transform="rotate(-90 75.8 571.3)" style='font-family:"Liberation Serif", "Times New Roman", serif;font-size:11px;font-weight:bold;font-style:normal' fill="#000">Sensitivity error (%)</text><text x="105.8" y="650.6" textLength="179.8" lengthAdjust="spacingAndGlyphs" style='font-family:"Liberation Serif", "Times New Roman", serif;font-size:12.5px;font-weight:bold;font-style:normal' fill="#000">Repetition experiment frequency</text><rect x="108.1" y="508" width="28.9" height="10.5" fill="url(#hatch)"/><text x="142.2" y="517.1" textLength="131.2" lengthAdjust="spacingAndGlyphs" style='font-family:"Liberation Serif", "Times New Roman", serif;font-size:16.5px;font-weight:bold;font-style:normal' fill="#000">Sensitivity errors</text><line x1="677.5" y1="524.3" x2="677.5" y2="833.4" stroke="#111" stroke-width="1.4"/><line x1="677.5" y1="833.4" x2="1061.3" y2="833.4" stroke="#111" stroke-width="1.4"/><line x1="677.5" y1="524.3" x2="671.5" y2="524.3" stroke="#111" stroke-width="1.3"/><text x="667.1" y="528.9" text-anchor="end" textLength="22.2" lengthAdjust="spacingAndGlyphs" style='font-family:"Liberation Serif", "Times New Roman", serif;font-size:14.5px;font-weight:bold;font-style:normal' fill="#000">−14</text><line x1="677.5" y1="552.39" x2="673.9" y2="552.39" stroke="#111" stroke-width="1.3"/><line x1="677.5" y1="580.48" x2="671.5" y2="580.48" stroke="#111" stroke-width="1.3"/><text x="667.1" y="585.08" text-anchor="end" textLength="22.2" lengthAdjust="spacingAndGlyphs" style='font-family:"Liberation Serif", "Times New Roman", serif;font-size:14.5px;font-weight:bold;font-style:normal' fill="#000">−15</text><line x1="677.5" y1="608.57" x2="673.9" y2="608.57" stroke="#111" stroke-width="1.3"/><line x1="677.5" y1="636.66" x2="671.5" y2="636.66" stroke="#111" stroke-width="1.3"/><text x="667.1" y="641.26" text-anchor="end" textLength="22.2" lengthAdjust="spacingAndGlyphs" style='font-family:"Liberation Serif", "Times New Roman", serif;font-size:14.5px;font-weight:bold;font-style:normal' fill="#000">−16</text><line x1="677.5" y1="664.75" x2="673.9" y2="664.75" stroke="#111" stroke-width="1.3"/><line x1="677.5" y1="692.84" x2="671.5" y2="692.84" stroke="#111" stroke-width="1.3"/><text x="667.1" y="697.44" text-anchor="end" textLength="22.2" lengthAdjust="spacingAndGlyphs" style='font-family:"Liberation Serif", "Times New Roman", serif;font-size:14.5px;font-weight:bold;font-style:normal' fill="#000">−17</text><line x1="677.5" y1="720.93" x2="673.9" y2="720.93" stroke="#111" stroke-width="1.3"/><line x1="677.5" y1="749.02" x2="671.5" y2="749.02" stroke="#111" stroke-width="1.3"/><text x="667.1" y="753.62" text-anchor="end" textLength="22.2" lengthAdjust="spacingAndGlyphs" style='font-family:"Liberation Serif", "Times New Roman", serif;font-size:14.5px;font-weight:bold;font-style:normal' fill="#000">−18</text><line x1="677.5" y1="777.11" x2="673.9" y2="777.11" stroke="#111" stroke-width="1.3"/><line x1="677.5" y1="805.2" x2="671.5" y2="805.2" stroke="#111" stroke-width="1.3"/><text x="667.1" y="809.8" text-anchor="end" textLength="22.2" lengthAdjust="spacingAndGlyphs" style='font-family:"Liberation Serif", "Times New Roman", serif;font-size:14.5px;font-weight:bold;font-style:normal' fill="#000">−19</text><line x1="677.5" y1="833.29" x2="673.9" y2="833.29" stroke="#111" stroke-width="1.3"/><line x1="677.2" y1="833.4" x2="677.2" y2="838.9" stroke="#111" stroke-width="1.3"/><text x="677.2" y="855" text-anchor="middle" textLength="14.2" lengthAdjust="spacingAndGlyphs" style='font-family:"Liberation Serif", "Times New Roman", serif;font-size:14.5px;font-weight:bold;font-style:normal' fill="#000">10</text><line x1="704.6" y1="833.4" x2="704.6" y2="836.4" stroke="#111" stroke-width="1.3"/><line x1="731.99" y1="833.4" x2="731.99" y2="838.9" stroke="#111" stroke-width="1.3"/><text x="731.99" y="855" text-anchor="middle" textLength="14.2" lengthAdjust="spacingAndGlyphs" style='font-family:"Liberation Serif", "Times New Roman", serif;font-size:14.5px;font-weight:bold;font-style:normal' fill="#000">20</text><line x1="759.38" y1="833.4" x2="759.38" y2="836.4" stroke="#111" stroke-width="1.3"/><line x1="786.78" y1="833.4" x2="786.78" y2="838.9" stroke="#111" stroke-width="1.3"/><text x="786.78" y="855" text-anchor="middle" textLength="14.2" lengthAdjust="spacingAndGlyphs" style='font-family:"Liberation Serif", "Times New Roman", serif;font-size:14.5px;font-weight:bold;font-style:normal' fill="#000">30</text><line x1="814.18" y1="833.4" x2="814.18" y2="836.4" stroke="#111" stroke-width="1.3"/><line x1="841.57" y1="833.4" x2="841.57" y2="838.9" stroke="#111" stroke-width="1.3"/><text x="841.57" y="855" text-anchor="middle" textLength="14.2" lengthAdjust="spacingAndGlyphs" style='font-family:"Liberation Serif", "Times New Roman", serif;font-size:14.5px;font-weight:bold;font-style:normal' fill="#000">40</text><line x1="868.97" y1="833.4" x2="868.97" y2="836.4" stroke="#111" stroke-width="1.3"/><line x1="896.36" y1="833.4" x2="896.36" y2="838.9" stroke="#111" stroke-width="1.3"/><text x="896.36" y="855" text-anchor="middle" textLength="14.2" lengthAdjust="spacingAndGlyphs" style='font-family:"Liberation Serif", "Times New Roman", serif;font-size:14.5px;font-weight:bold;font-style:normal' fill="#000">50</text><line x1="923.76" y1="833.4" x2="923.76" y2="836.4" stroke="#111" stroke-width="1.3"/><line x1="951.15" y1="833.4" x2="951.15" y2="838.9" stroke="#111" stroke-width="1.3"/><text x="951.15" y="855" text-anchor="middle" textLength="14.2" lengthAdjust="spacingAndGlyphs" style='font-family:"Liberation Serif", "Times New Roman", serif;font-size:14.5px;font-weight:bold;font-style:normal' fill="#000">60</text><line x1="978.55" y1="833.4" x2="978.55" y2="836.4" stroke="#111" stroke-width="1.3"/><line x1="1005.94" y1="833.4" x2="1005.94" y2="838.9" stroke="#111" stroke-width="1.3"/><text x="1005.94" y="855" text-anchor="middle" textLength="14.2" lengthAdjust="spacingAndGlyphs" style='font-family:"Liberation Serif", "Times New Roman", serif;font-size:14.5px;font-weight:bold;font-style:normal' fill="#000">70</text><line x1="1033.34" y1="833.4" x2="1033.34" y2="836.4" stroke="#111" stroke-width="1.3"/><line x1="1060.73" y1="833.4" x2="1060.73" y2="838.9" stroke="#111" stroke-width="1.3"/><text x="1060.73" y="855" text-anchor="middle" textLength="14.2" lengthAdjust="spacingAndGlyphs" style='font-family:"Liberation Serif", "Times New Roman", serif;font-size:14.5px;font-weight:bold;font-style:normal' fill="#000">80</text><text x="868.6" y="880" text-anchor="middle" textLength="96.7" lengthAdjust="spacingAndGlyphs" style='font-family:"Liberation Serif", "Times New Roman", serif;font-size:15px;font-weight:bold;font-style:normal' fill="#000">Humidity (H)</text><text x="638.5" y="680.9" text-anchor="middle" textLength="187.2" lengthAdjust="spacingAndGlyphs" transform="rotate(-90 638.5 680.9)" style='font-family:"Liberation Serif", "Times New Roman", serif;font-size:15px;font-weight:bold;font-style:normal' fill="#000">Transmission range (dB)</text><path d="M688.3 772.1 L740.1 732.4 L791.5 688.4 L844.3 643.5 L895.5 602.1 L948.3 570.6 L1000 553.5 L1025.9 550.4 L1051.8 556.5" fill="none" stroke="#505050" stroke-width="1.7"/><rect x="685.1" y="768.9" width="6.4" height="6.4" fill="#505050"/><rect x="736.9" y="729.2" width="6.4" height="6.4" fill="#505050"/><rect x="788.3" y="685.2" width="6.4" height="6.4" fill="#505050"/><rect x="841.1" y="640.3" width="6.4" height="6.4" fill="#505050"/><rect x="892.3" y="598.9" width="6.4" height="6.4" fill="#505050"/><rect x="945.1" y="567.4" width="6.4" height="6.4" fill="#505050"/><rect x="996.8" y="550.3" width="6.4" height="6.4" fill="#505050"/><rect x="1022.7" y="547.2" width="6.4" height="6.4" fill="#505050"/><rect x="1048.6" y="553.3" width="6.4" height="6.4" fill="#505050"/><path d="M689.7 779.9 L740.1 743.6 L793.3 696.8 L845.1 657.1 L895.5 614.6 L947.5 586.8 L1000.9 572.1 L1026.2 572 L1052.4 572" fill="none" stroke="#f43c3c" stroke-width="1.7"/><circle cx="689.7" cy="779.9" r="3.6" fill="#f43c3c"/><circle cx="740.1" cy="743.6" r="3.6" fill="#f43c3c"/><circle cx="793.3" cy="696.8" r="3.6" fill="#f43c3c"/><circle cx="845.1" cy="657.1" r="3.6" fill="#f43c3c"/><circle cx="895.5" cy="614.6" r="3.6" fill="#f43c3c"/><circle cx="947.5" cy="586.8" r="3.6" fill="#f43c3c"/><circle cx="1000.9" cy="572.1" r="3.6" fill="#f43c3c"/><circle cx="1026.2" cy="572" r="3.6" fill="#f43c3c"/><circle cx="1052.4" cy="572" r="3.6" fill="#f43c3c"/><path d="M688.7 794.4 L738 755.3 L793.3 711.9 L844.3 668.9 L896.3 627.7 L948.3 601.4 L998.4 584.8 L1026.6 585.5 L1052.9 587.9" fill="none" stroke="#2eb062" stroke-width="1.7"/><path d="M688.7 799.46 L693 791.86 L684.4 791.86Z" fill="#2eb062" stroke="none" stroke-width="1"/><path d="M738 760.36 L742.3 752.76 L733.7 752.76Z" fill="#2eb062" stroke="none" stroke-width="1"/><path d="M793.3 716.96 L797.6 709.36 L789 709.36Z" fill="#2eb062" stroke="none" stroke-width="1"/><path d="M844.3 673.96 L848.6 666.36 L840 666.36Z" fill="#2eb062" stroke="none" stroke-width="1"/><path d="M896.3 632.76 L900.6 625.16 L892 625.16Z" fill="#2eb062" stroke="none" stroke-width="1"/><path d="M948.3 606.46 L952.6 598.86 L944 598.86Z" fill="#2eb062" stroke="none" stroke-width="1"/><path d="M998.4 589.86 L1002.7 582.26 L994.1 582.26Z" fill="#2eb062" stroke="none" stroke-width="1"/><path d="M1026.6 590.56 L1030.9 582.96 L1022.3 582.96Z" fill="#2eb062" stroke="none" stroke-width="1"/><path d="M1052.9 592.96 L1057.2 585.36 L1048.6 585.36Z" fill="#2eb062" stroke="none" stroke-width="1"/><path d="M689.1 784.6 L740.7 749 L791.3 710.3 L844.1 669.3 L894.7 634.9 L948 611 L999.6 599.1 L1025.6 595.6 L1051.3 596.3" fill="none" stroke="#1f6ef0" stroke-width="1.7"/><path d="M689.1 779.54 L693.4 787.14 L684.8 787.14Z" fill="#1f6ef0" stroke="none" stroke-width="1"/><path d="M740.7 743.94 L745 751.54 L736.4 751.54Z" fill="#1f6ef0" stroke="none" stroke-width="1"/><path d="M791.3 705.24 L795.6 712.84 L787 712.84Z" fill="#1f6ef0" stroke="none" stroke-width="1"/><path d="M844.1 664.24 L848.4 671.84 L839.8 671.84Z" fill="#1f6ef0" stroke="none" stroke-width="1"/><path d="M894.7 629.84 L899 637.44 L890.4 637.44Z" fill="#1f6ef0" stroke="none" stroke-width="1"/><path d="M948 605.94 L952.3 613.54 L943.7 613.54Z" fill="#1f6ef0" stroke="none" stroke-width="1"/><path d="M999.6 594.04 L1003.9 601.64 L995.3 601.64Z" fill="#1f6ef0" stroke="none" stroke-width="1"/><path d="M1025.6 590.54 L1029.9 598.14 L1021.3 598.14Z" fill="#1f6ef0" stroke="none" stroke-width="1"/><path d="M1051.3 591.24 L1055.6 598.84 L1047 598.84Z" fill="#1f6ef0" stroke="none" stroke-width="1"/><rect x="680.7" y="523.5" width="195.8" height="87.6" fill="#fff" stroke="#a0a0a0" stroke-width="1"/><text x="682.4" y="535.7" textLength="189.4" lengthAdjust="spacingAndGlyphs" style='font-family:"Liberation Serif", "Times New Roman", serif;font-size:12px;font-weight:bold;font-style:normal' fill="#000">Amplitude changes of cladding mode</text><text x="682.4" y="550.4" textLength="183.6" lengthAdjust="spacingAndGlyphs" style='font-family:"Liberation Serif", "Times New Roman", serif;font-size:12px;font-weight:bold;font-style:normal' fill="#000">resonance dips at different RH level</text><line x1="682.1" y1="560.8" x2="708.8" y2="560.8" stroke="#505050" stroke-width="1.7"/><rect x="692.1" y="557.5" width="6.6" height="6.6" fill="#505050"/><text x="712.1" y="564.8" textLength="53.2" lengthAdjust="spacingAndGlyphs" style='font-family:"Liberation Serif", "Times New Roman", serif;font-size:12.5px;font-weight:bold;font-style:normal' fill="#000">10% of RH</text><line x1="682.1" y1="575.3" x2="708.8" y2="575.3" stroke="#f43c3c" stroke-width="1.7"/><circle cx="695.4" cy="575.3" r="3.6" fill="#f43c3c"/><text x="713.9" y="579.2" textLength="53.6" lengthAdjust="spacingAndGlyphs" style='font-family:"Liberation Serif", "Times New Roman", serif;font-size:12.5px;font-weight:bold;font-style:normal' fill="#000">20% of RH</text><line x1="682.1" y1="590" x2="708.8" y2="590" stroke="#2eb062" stroke-width="1.7"/><path d="M695.4 595.06 L699.7 587.46 L691.1 587.46Z" fill="#2eb062" stroke="none" stroke-width="1"/><text x="713.9" y="593.9" textLength="56.3" lengthAdjust="spacingAndGlyphs" style='font-family:"Liberation Serif", "Times New Roman", serif;font-size:12.5px;font-weight:bold;font-style:normal' fill="#000">30 % of RH</text><line x1="682.1" y1="604.3" x2="708.8" y2="604.3" stroke="#1f6ef0" stroke-width="1.7"/><path d="M695.4 599.24 L699.7 606.84 L691.1 606.84Z" fill="#1f6ef0" stroke="none" stroke-width="1"/><text x="713.9" y="608.6" textLength="53.9" lengthAdjust="spacingAndGlyphs" style='font-family:"Liberation Serif", "Times New Roman", serif;font-size:12.5px;font-weight:bold;font-style:normal' fill="#000">60% of RH</text><line x1="1253.5" y1="524.1" x2="1253.5" y2="834" stroke="#111" stroke-width="1.4"/><line x1="1253.5" y1="834" x2="1637" y2="834" stroke="#111" stroke-width="1.4"/><line x1="1253.5" y1="524.1" x2="1247.5" y2="524.1" stroke="#111" stroke-width="1.3"/><text x="1242.3" y="528.5" text-anchor="end" textLength="21.5" lengthAdjust="spacingAndGlyphs" style='font-family:"Liberation Serif", "Times New Roman", serif;font-size:14.5px;font-weight:bold;font-style:normal' fill="#000">−13</text><line x1="1253.5" y1="555.09" x2="1249.9" y2="555.09" stroke="#111" stroke-width="1.3"/><line x1="1253.5" y1="586.08" x2="1247.5" y2="586.08" stroke="#111" stroke-width="1.3"/><text x="1242.3" y="590.48" text-anchor="end" textLength="21.5" lengthAdjust="spacingAndGlyphs" style='font-family:"Liberation Serif", "Times New Roman", serif;font-size:14.5px;font-weight:bold;font-style:normal' fill="#000">−14</text><line x1="1253.5" y1="617.07" x2="1249.9" y2="617.07" stroke="#111" stroke-width="1.3"/><line x1="1253.5" y1="648.06" x2="1247.5" y2="648.06" stroke="#111" stroke-width="1.3"/><text x="1242.3" y="652.46" text-anchor="end" textLength="21.5" lengthAdjust="spacingAndGlyphs" style='font-family:"Liberation Serif", "Times New Roman", serif;font-size:14.5px;font-weight:bold;font-style:normal' fill="#000">−15</text><line x1="1253.5" y1="679.05" x2="1249.9" y2="679.05" stroke="#111" stroke-width="1.3"/><line x1="1253.5" y1="710.04" x2="1247.5" y2="710.04" stroke="#111" stroke-width="1.3"/><text x="1242.3" y="714.44" text-anchor="end" textLength="21.5" lengthAdjust="spacingAndGlyphs" style='font-family:"Liberation Serif", "Times New Roman", serif;font-size:14.5px;font-weight:bold;font-style:normal' fill="#000">−16</text><line x1="1253.5" y1="741.03" x2="1249.9" y2="741.03" stroke="#111" stroke-width="1.3"/><line x1="1253.5" y1="772.02" x2="1247.5" y2="772.02" stroke="#111" stroke-width="1.3"/><text x="1242.3" y="776.42" text-anchor="end" textLength="21.5" lengthAdjust="spacingAndGlyphs" style='font-family:"Liberation Serif", "Times New Roman", serif;font-size:14.5px;font-weight:bold;font-style:normal' fill="#000">−17</text><line x1="1253.5" y1="803.01" x2="1249.9" y2="803.01" stroke="#111" stroke-width="1.3"/><line x1="1253.5" y1="834" x2="1247.5" y2="834" stroke="#111" stroke-width="1.3"/><text x="1242.3" y="838.4" text-anchor="end" textLength="21.5" lengthAdjust="spacingAndGlyphs" style='font-family:"Liberation Serif", "Times New Roman", serif;font-size:14.5px;font-weight:bold;font-style:normal' fill="#000">−18</text><line x1="1253.51" y1="834" x2="1253.51" y2="837" stroke="#111" stroke-width="1.3"/><line x1="1280.9" y1="834" x2="1280.9" y2="839.5" stroke="#111" stroke-width="1.3"/><text x="1280.9" y="855" text-anchor="middle" textLength="6.6" lengthAdjust="spacingAndGlyphs" style='font-family:"Liberation Serif", "Times New Roman", serif;font-size:14.5px;font-weight:bold;font-style:normal' fill="#000">0</text><line x1="1308.3" y1="834" x2="1308.3" y2="837" stroke="#111" stroke-width="1.3"/><line x1="1335.69" y1="834" x2="1335.69" y2="839.5" stroke="#111" stroke-width="1.3"/><text x="1335.69" y="855" text-anchor="middle" textLength="13.8" lengthAdjust="spacingAndGlyphs" style='font-family:"Liberation Serif", "Times New Roman", serif;font-size:14.5px;font-weight:bold;font-style:normal' fill="#000">10</text><line x1="1363.09" y1="834" x2="1363.09" y2="837" stroke="#111" stroke-width="1.3"/><line x1="1390.48" y1="834" x2="1390.48" y2="839.5" stroke="#111" stroke-width="1.3"/><text x="1390.48" y="855" text-anchor="middle" textLength="13.8" lengthAdjust="spacingAndGlyphs" style='font-family:"Liberation Serif", "Times New Roman", serif;font-size:14.5px;font-weight:bold;font-style:normal' fill="#000">20</text><line x1="1417.88" y1="834" x2="1417.88" y2="837" stroke="#111" stroke-width="1.3"/><line x1="1445.27" y1="834" x2="1445.27" y2="839.5" stroke="#111" stroke-width="1.3"/><text x="1445.27" y="855" text-anchor="middle" textLength="13.8" lengthAdjust="spacingAndGlyphs" style='font-family:"Liberation Serif", "Times New Roman", serif;font-size:14.5px;font-weight:bold;font-style:normal' fill="#000">30</text><line x1="1472.67" y1="834" x2="1472.67" y2="837" stroke="#111" stroke-width="1.3"/><line x1="1500.06" y1="834" x2="1500.06" y2="839.5" stroke="#111" stroke-width="1.3"/><text x="1500.06" y="855" text-anchor="middle" textLength="13.8" lengthAdjust="spacingAndGlyphs" style='font-family:"Liberation Serif", "Times New Roman", serif;font-size:14.5px;font-weight:bold;font-style:normal' fill="#000">40</text><line x1="1527.46" y1="834" x2="1527.46" y2="837" stroke="#111" stroke-width="1.3"/><line x1="1554.85" y1="834" x2="1554.85" y2="839.5" stroke="#111" stroke-width="1.3"/><text x="1554.85" y="855" text-anchor="middle" textLength="13.8" lengthAdjust="spacingAndGlyphs" style='font-family:"Liberation Serif", "Times New Roman", serif;font-size:14.5px;font-weight:bold;font-style:normal' fill="#000">50</text><line x1="1582.25" y1="834" x2="1582.25" y2="837" stroke="#111" stroke-width="1.3"/><line x1="1609.64" y1="834" x2="1609.64" y2="839.5" stroke="#111" stroke-width="1.3"/><text x="1609.64" y="855" text-anchor="middle" textLength="13.8" lengthAdjust="spacingAndGlyphs" style='font-family:"Liberation Serif", "Times New Roman", serif;font-size:14.5px;font-weight:bold;font-style:normal' fill="#000">60</text><line x1="1637.04" y1="834" x2="1637.04" y2="837" stroke="#111" stroke-width="1.3"/><text x="1445" y="880.8" text-anchor="middle" textLength="120" lengthAdjust="spacingAndGlyphs" style='font-family:"Liberation Serif", "Times New Roman", serif;font-size:15.5px;font-weight:bold;font-style:normal' fill="#000">Time in minutes</text><text x="1213.5" y="681.2" text-anchor="middle" textLength="197.4" lengthAdjust="spacingAndGlyphs" transform="rotate(-90 1213.5 681.2)" style='font-family:"Liberation Serif", "Times New Roman", serif;font-size:15px;font-weight:bold;font-style:normal' fill="#000">Transmission Range in dB</text><path d="M1290.9 623.4 L1342 623.4 L1393.9 621.1 L1444.3 621.1 L1498.4 621.1 L1547 617.3 L1595.9 617.3" fill="none" stroke="#8e0a0a" stroke-width="1.8"/><path d="M1290.9 618.4 L1295.2 623.4 L1290.9 628.4 L1286.6 623.4Z" fill="#fff" stroke="#8e0a0a" stroke-width="1"/><path d="M1290.9 618.4 L1295.2 623.4 L1290.9 628.4Z" fill="#8e0a0a" stroke="#8e0a0a" stroke-width="0.8"/><path d="M1342 618.4 L1346.3 623.4 L1342 628.4 L1337.7 623.4Z" fill="#fff" stroke="#8e0a0a" stroke-width="1"/><path d="M1342 618.4 L1346.3 623.4 L1342 628.4Z" fill="#8e0a0a" stroke="#8e0a0a" stroke-width="0.8"/><path d="M1393.9 616.1 L1398.2 621.1 L1393.9 626.1 L1389.6 621.1Z" fill="#fff" stroke="#8e0a0a" stroke-width="1"/><path d="M1393.9 616.1 L1398.2 621.1 L1393.9 626.1Z" fill="#8e0a0a" stroke="#8e0a0a" stroke-width="0.8"/><path d="M1444.3 616.1 L1448.6 621.1 L1444.3 626.1 L1440 621.1Z" fill="#fff" stroke="#8e0a0a" stroke-width="1"/><path d="M1444.3 616.1 L1448.6 621.1 L1444.3 626.1Z" fill="#8e0a0a" stroke="#8e0a0a" stroke-width="0.8"/><path d="M1498.4 616.1 L1502.7 621.1 L1498.4 626.1 L1494.1 621.1Z" fill="#fff" stroke="#8e0a0a" stroke-width="1"/><path d="M1498.4 616.1 L1502.7 621.1 L1498.4 626.1Z" fill="#8e0a0a" stroke="#8e0a0a" stroke-width="0.8"/><path d="M1547 612.3 L1551.3 617.3 L1547 622.3 L1542.7 617.3Z" fill="#fff" stroke="#8e0a0a" stroke-width="1"/><path d="M1547 612.3 L1551.3 617.3 L1547 622.3Z" fill="#8e0a0a" stroke="#8e0a0a" stroke-width="0.8"/><path d="M1595.9 612.3 L1600.2 617.3 L1595.9 622.3 L1591.6 617.3Z" fill="#fff" stroke="#8e0a0a" stroke-width="1"/><path d="M1595.9 612.3 L1600.2 617.3 L1595.9 622.3Z" fill="#8e0a0a" stroke="#8e0a0a" stroke-width="0.8"/><path d="M1290.9 779.3 L1342 777.5 L1393.2 771.4 L1444.8 775.2 L1495.9 771.4 L1546.6 769.5 L1597.7 767.3" fill="none" stroke="#119211" stroke-width="1.8"/><path d="M1290.9 774.3 L1295.2 779.3 L1290.9 784.3 L1286.6 779.3Z" fill="#fff" stroke="#119211" stroke-width="1"/><path d="M1290.9 774.3 L1295.2 779.3 L1290.9 784.3Z" fill="#119211" stroke="#119211" stroke-width="0.8"/><path d="M1342 772.5 L1346.3 777.5 L1342 782.5 L1337.7 777.5Z" fill="#fff" stroke="#119211" stroke-width="1"/><path d="M1342 772.5 L1346.3 777.5 L1342 782.5Z" fill="#119211" stroke="#119211" stroke-width="0.8"/><path d="M1393.2 766.4 L1397.5 771.4 L1393.2 776.4 L1388.9 771.4Z" fill="#fff" stroke="#119211" stroke-width="1"/><path d="M1393.2 766.4 L1397.5 771.4 L1393.2 776.4Z" fill="#119211" stroke="#119211" stroke-width="0.8"/><path d="M1444.8 770.2 L1449.1 775.2 L1444.8 780.2 L1440.5 775.2Z" fill="#fff" stroke="#119211" stroke-width="1"/><path d="M1444.8 770.2 L1449.1 775.2 L1444.8 780.2Z" fill="#119211" stroke="#119211" stroke-width="0.8"/><path d="M1495.9 766.4 L1500.2 771.4 L1495.9 776.4 L1491.6 771.4Z" fill="#fff" stroke="#119211" stroke-width="1"/><path d="M1495.9 766.4 L1500.2 771.4 L1495.9 776.4Z" fill="#119211" stroke="#119211" stroke-width="0.8"/><path d="M1546.6 764.5 L1550.9 769.5 L1546.6 774.5 L1542.3 769.5Z" fill="#fff" stroke="#119211" stroke-width="1"/><path d="M1546.6 764.5 L1550.9 769.5 L1546.6 774.5Z" fill="#119211" stroke="#119211" stroke-width="0.8"/><path d="M1597.7 762.3 L1602 767.3 L1597.7 772.3 L1593.4 767.3Z" fill="#fff" stroke="#119211" stroke-width="1"/><path d="M1597.7 762.3 L1602 767.3 L1597.7 772.3Z" fill="#119211" stroke="#119211" stroke-width="0.8"/><rect x="1276.4" y="528.8" width="235.4" height="61.5" fill="#fff" stroke="#a0a0a0" stroke-width="1"/><text x="1277.8" y="541.1" textLength="230.3" lengthAdjust="spacingAndGlyphs" style='font-family:"Liberation Serif", "Times New Roman", serif;font-size:12.5px;font-weight:bold;font-style:normal' fill="#000">Stability result with selected resonance dip</text><text x="1277.8" y="556.2" textLength="180.2" lengthAdjust="spacingAndGlyphs" style='font-family:"Liberation Serif", "Times New Roman", serif;font-size:12.5px;font-weight:bold;font-style:normal' fill="#000">at 1557nm for two fixed RH levels</text><line x1="1277.4" y1="567.4" x2="1305.5" y2="567.4" stroke="#8e0a0a" stroke-width="1.8"/><path d="M1291.5 562.4 L1295.8 567.4 L1291.5 572.4 L1287.2 567.4Z" fill="#fff" stroke="#8e0a0a" stroke-width="1"/><path d="M1291.5 562.4 L1295.8 567.4 L1291.5 572.4Z" fill="#8e0a0a" stroke="#8e0a0a" stroke-width="0.8"/><text x="1307.9" y="571.4" textLength="42.7" lengthAdjust="spacingAndGlyphs" style='font-family:"Liberation Serif", "Times New Roman", serif;font-size:12.5px;font-weight:bold;font-style:normal' fill="#000">70% RH</text><line x1="1277.4" y1="582.4" x2="1305.5" y2="582.4" stroke="#119211" stroke-width="1.8"/><path d="M1291.5 577.4 L1295.8 582.4 L1291.5 587.4 L1287.2 582.4Z" fill="#fff" stroke="#119211" stroke-width="1"/><path d="M1291.5 577.4 L1295.8 582.4 L1291.5 587.4Z" fill="#119211" stroke="#119211" stroke-width="0.8"/><text x="1307.9" y="586.4" textLength="42.7" lengthAdjust="spacingAndGlyphs" style='font-family:"Liberation Serif", "Times New Roman", serif;font-size:12.5px;font-weight:bold;font-style:normal' fill="#000">30% RH</text><ellipse cx="514.3" cy="296" rx="17.2" ry="67.6" fill="#fff" stroke="#0b6fc6" stroke-width="2.6"/><ellipse cx="398" cy="296.4" rx="17" ry="78.8" fill="#ffcc00" stroke="#3f8fd2" stroke-width="1"/><rect x="249.5" y="217.6" width="148.5" height="157.6" fill="#ffcc00"/><line x1="249.5" y1="217.6" x2="398" y2="217.6" stroke="#3f8fd2" stroke-width="1"/><line x1="249.5" y1="375.2" x2="398" y2="375.2" stroke="#3f8fd2" stroke-width="1"/><ellipse cx="249.5" cy="296.5" rx="16.6" ry="78.7" fill="#ffcc00" stroke="#3f8fd2" stroke-width="1"/><ellipse cx="250.3" cy="297" rx="12.2" ry="67" fill="#fff" stroke="#3f8fd2" stroke-width="1"/><ellipse cx="250.3" cy="297" rx="10.6" ry="65.5" fill="none" stroke="#7ab8e0" stroke-width="1.6" stroke-dasharray="9 5"/><ellipse cx="113.4" cy="296.8" rx="17.2" ry="67.6" fill="#fff" stroke="#0b6fc6" stroke-width="2.6"/><line x1="113.4" y1="229.6" x2="514.3" y2="228.8" stroke="#0b6fc6" stroke-width="2.6"/><line x1="113.4" y1="364.4" x2="514.3" y2="363.6" stroke="#0b6fc6" stroke-width="2.6"/><ellipse cx="286.5" cy="300" rx="5.5" ry="22.3" transform="rotate(20.5 286.5 300)" fill="#ffff00" stroke="#3a8cc0" stroke-width="1"/><ellipse cx="298.65" cy="300" rx="5.5" ry="22.3" transform="rotate(20.5 298.65 300)" fill="#ffff00" stroke="#3a8cc0" stroke-width="1"/><ellipse cx="310.8" cy="300" rx="5.5" ry="22.3" transform="rotate(20.5 310.8 300)" fill="#ffff00" stroke="#3a8cc0" stroke-width="1"/><ellipse cx="322.95" cy="300" rx="5.5" ry="22.3" transform="rotate(20.5 322.95 300)" fill="#ffff00" stroke="#3a8cc0" stroke-width="1"/><ellipse cx="335.1" cy="300" rx="5.5" ry="22.3" transform="rotate(20.5 335.1 300)" fill="#ffff00" stroke="#3a8cc0" stroke-width="1"/><ellipse cx="347.25" cy="300" rx="5.5" ry="22.3" transform="rotate(20.5 347.25 300)" fill="#ffff00" stroke="#3a8cc0" stroke-width="1"/><ellipse cx="359.4" cy="300" rx="5.5" ry="22.3" transform="rotate(20.5 359.4 300)" fill="#ffff00" stroke="#3a8cc0" stroke-width="1"/><ellipse cx="371.55" cy="300" rx="5.5" ry="22.3" transform="rotate(20.5 371.55 300)" fill="#ffff00" stroke="#3a8cc0" stroke-width="1"/><ellipse cx="383.7" cy="300" rx="5.5" ry="22.3" transform="rotate(20.5 383.7 300)" fill="#ffff3c" stroke="#3a6ca0" stroke-width="1" stroke-dasharray="3 1.5"/><line x1="375.2" y1="320.5" x2="392.2" y2="279.5" stroke="#222" stroke-width="0.9" stroke-dasharray="3 2"/><line x1="391.6" y1="279" x2="391.6" y2="321.5" stroke="#222" stroke-width="0.9" stroke-dasharray="3 2"/><text x="384.6" y="309.6" style='font-family:"Liberation Serif", "Times New Roman", serif;font-size:13px;font-weight:bold;font-style:normal' fill="#1010ff">θ</text><line x1="114.4" y1="278.2" x2="514.6" y2="278.2" stroke="#111" stroke-width="2" stroke-dasharray="12.7 7.9"/><line x1="114.4" y1="321.8" x2="514.6" y2="321.8" stroke="#111" stroke-width="2" stroke-dasharray="12.7 7.9"/><ellipse cx="114.4" cy="300.8" rx="5.9" ry="21.8" fill="#ffff00" stroke="#111" stroke-width="1.6"/><ellipse cx="114.4" cy="301.5" rx="3.4" ry="10.5" fill="url(#coreg)"/><ellipse cx="514.6" cy="299.8" rx="5.9" ry="21.5" fill="#ffff00" stroke="#111" stroke-width="1.6" stroke-dasharray="5 2.5"/><ellipse cx="514.6" cy="300" rx="2.6" ry="6" fill="url(#coreg)"/><path d="M187 295.4 L223.7 295.4 L223.7 289.5 L236.7 301.4 L223.7 313.2 L223.7 307.3 L187 307.3 Z" fill="#f93636" stroke="none" stroke-width="1"/><path d="M241.6 299.8 L249.5 294.2 L249.5 297 L274.7 297 L274.7 302.6 L249.5 302.6 L249.5 305.4 Z" fill="url(#arrg)" stroke="none" stroke-width="1"/><path d="M433.7 297.2 L455.5 297.2 L455.5 295.2 L467 298.5 L455.5 301.8 L455.5 299.8 L433.7 299.8 Z" fill="#f23a3a" stroke="none" stroke-width="1"/><line x1="313.8" y1="274.4" x2="282.34" y2="232.16" stroke="url(#gin0)" stroke-width="2.9"/><line x1="281.7" y1="231.3" x2="268.49" y2="239.23" stroke="url(#gout0)" stroke-width="2.4"/><path d="M282.66 232.59 L290.15 237.62 L285.33 241.2Z" fill="#5a5080" stroke="none" stroke-width="1" opacity="0.9"/><path d="M264.2 241.8 L269.52 235.11 L272.6 240.26Z" fill="#8a7a88" stroke="none" stroke-width="1" opacity="0.95"/><line x1="341.8" y1="274.7" x2="312.3" y2="232.17" stroke="url(#gin1)" stroke-width="2.9"/><line x1="311.7" y1="231.3" x2="276.42" y2="248.06" stroke="url(#gout1)" stroke-width="2.4"/><path d="M312.6 232.6 L319.91 237.88 L314.98 241.3Z" fill="#ff4a10" stroke="none" stroke-width="1" opacity="0.9"/><path d="M271.9 250.2 L277.84 244.06 L280.41 249.48Z" fill="#ff3a10" stroke="none" stroke-width="1" opacity="0.95"/><line x1="371.9" y1="273.3" x2="337.6" y2="232.14" stroke="url(#gin2)" stroke-width="2.9"/><line x1="336.9" y1="231.3" x2="289.01" y2="254.33" stroke="url(#gout2)" stroke-width="2.4"/><path d="M337.95 232.56 L345.7 237.17 L341.09 241.01Z" fill="#48b050" stroke="none" stroke-width="1" opacity="0.9"/><path d="M284.5 256.5 L290.41 250.33 L293.01 255.74Z" fill="#38b050" stroke="none" stroke-width="1" opacity="0.95"/><text x="313.3" y="269.6" style='font-family:"Liberation Serif", "Times New Roman", serif;font-size:15px;font-weight:bold;font-style:italic' fill="#34346a">k</text><text x="343" y="266.5" style='font-family:"Liberation Serif", "Times New Roman", serif;font-size:15px;font-weight:bold;font-style:italic' fill="#ff2a10">j</text><text x="370.6" y="264.9" style='font-family:"Liberation Serif", "Times New Roman", serif;font-size:15px;font-weight:bold;font-style:italic' fill="#3cb04a">i</text><text x="173.3" y="249.9" textLength="97.9" lengthAdjust="spacingAndGlyphs" style='font-family:"Liberation Serif", "Times New Roman", serif;font-size:13.5px;font-weight:bold;font-style:normal' fill="#000">Excited cladding</text><text x="203.4" y="266" textLength="37" lengthAdjust="spacingAndGlyphs" style='font-family:"Liberation Serif", "Times New Roman", serif;font-size:13.5px;font-weight:bold;font-style:normal' fill="#000">modes</text><text x="145.6" y="306.1" textLength="33.1" lengthAdjust="spacingAndGlyphs" style='font-family:"Liberation Serif", "Times New Roman", serif;font-size:16px;font-weight:bold;font-style:normal' fill="#000">Core</text><text x="133.7" y="351" textLength="62.3" lengthAdjust="spacingAndGlyphs" style='font-family:"Liberation Serif", "Times New Roman", serif;font-size:16px;font-weight:bold;font-style:normal' fill="#000">Cladding</text><text x="297" y="344.7" textLength="55.7" lengthAdjust="spacingAndGlyphs" style='font-family:"Liberation Serif", "Times New Roman", serif;font-size:20.5px;font-weight:bold;font-style:normal' fill="#000">TFBG</text><text x="269.8" y="391.8" textLength="81.7" lengthAdjust="spacingAndGlyphs" style='font-family:"Liberation Serif", "Times New Roman", serif;font-size:14.5px;font-weight:bold;font-style:normal' fill="#000">Sensor head</text><text x="344.8" y="197.7" textLength="31.2" lengthAdjust="spacingAndGlyphs" style='font-family:"Liberation Serif", "Times New Roman", serif;font-size:18.5px;font-weight:bold;font-style:normal' fill="#000">GO</text><path d="M322 220.5 L342 201.2 L375.5 201.2" fill="none" stroke="#111" stroke-width="1.4"/><circle cx="35.5" cy="274.4" r="8" fill="#fff" stroke="#111" stroke-width="1.1"/><circle cx="35.5" cy="274.4" r="2.6" fill="#111"/><circle cx="36.4" cy="351.4" r="8" fill="#fff" stroke="#111" stroke-width="1.1"/><circle cx="36.4" cy="351.4" r="2.6" fill="#111"/><line x1="35.5" y1="266.3" x2="35.5" y2="246" stroke="#111" stroke-width="1.1"/><path d="M35.5 235.8 L39.5 247.3 L31.5 247.3 Z" fill="#111" stroke="none" stroke-width="1"/><line x1="36.4" y1="343.3" x2="36.4" y2="322.5" stroke="#111" stroke-width="1.1"/><path d="M36.4 311.5 L40.4 323.7 L32.4 323.7 Z" fill="#111" stroke="none" stroke-width="1"/><line x1="44.4" y1="351.4" x2="65.5" y2="351.4" stroke="#111" stroke-width="1.1"/><path d="M75.6 351.4 L64.8 347.3 L64.8 355.5 Z" fill="#111" stroke="none" stroke-width="1"/><text x="48.2" y="248.5" style='font-family:"Liberation Serif", "Times New Roman", serif;font-size:15.5px;font-weight:bold;font-style:italic' fill="#000">p</text><text x="49.6" y="279.2" style='font-family:"Liberation Serif", "Times New Roman", serif;font-size:16.5px;font-weight:bold;font-style:italic' fill="#000">s</text><text x="22.4" y="321.5" style='font-family:"Liberation Serif", "Times New Roman", serif;font-size:14px;font-weight:bold;font-style:italic' fill="#000">y</text><text x="57.8" y="344.6" style='font-family:"Liberation Serif", "Times New Roman", serif;font-size:14px;font-weight:bold;font-style:italic' fill="#000">z</text><text x="17.2" y="354.7" style='font-family:"Liberation Serif", "Times New Roman", serif;font-size:14px;font-weight:bold;font-style:italic' fill="#000">x</text><g clip-path="url(#semclip)"><rect x="1155" y="9" width="560" height="389" fill="url(#semBg)"/><rect x="1162" y="17" width="54" height="16" rx="6" fill="#7a6e6e" opacity="0.35" filter="url(#blur3)"/><path d="M1409.3 9 L1671.9 9 L1448.8 398 L1173.1 398 Z" fill="url(#fib)"/><path d="M1409.3 9 L1671.9 9 L1448.8 398 L1173.1 398 Z" fill="#fff" filter="url(#grain)" opacity="0.22"/><g clip-path="url(#fibclip)"><g filter="url(#blurH)"><path d="M1400 9 L1411.3 9 L1173.7 398 L1160 398 Z" fill="url(#hlV)"/><path d="M1400 9 L1414.3 9 L1174.6 398 L1160 398 Z" fill="url(#hlV)"/><path d="M1400 9 L1418.3 9 L1175.7 398 L1160 398 Z" fill="url(#hlV)"/><path d="M1400 9 L1423.3 9 L1177.1 398 L1160 398 Z" fill="url(#hlV)"/></g></g><g filter="url(#blur1)"><path d="M1392.88 282.01 L1395.01 284.13 L1393.94 286.94 L1393.51 289.9" fill="none" stroke="#d4d4d4" stroke-width="0.9" opacity="0.28"/><path d="M1351.68 187.67 L1352.71 190.49 L1352.17 193.44 L1349.37 194.52 L1346.54 195.51 L1344.03 197.15" fill="none" stroke="#d4d4d4" stroke-width="0.9" opacity="0.28"/><path d="M1453.12 124.9 L1454.8 122.41 L1456.03 119.68 L1456.27 116.69" fill="none" stroke="#8a8a8a" stroke-width="0.9" opacity="0.28"/><path d="M1581.45 27.63 L1582.11 30.55 L1584.01 32.88 L1586.21 34.92" fill="none" stroke="#d4d4d4" stroke-width="0.9" opacity="0.28"/><path d="M1469.9 153.78 L1469.24 156.71 L1466.6 158.12 L1463.63 158.54 L1461.57 160.73 L1458.72 161.65" fill="none" stroke="#8a8a8a" stroke-width="0.9" opacity="0.28"/><path d="M1489.17 47.82 L1490.01 44.95 L1491.65 42.43 L1494.31 41.05 L1493.89 38.08" fill="none" stroke="#d4d4d4" stroke-width="0.9" opacity="0.28"/><path d="M1348.42 319.09 L1348.63 322.09 L1350.77 324.19 L1350.86 327.19 L1353.57 328.48 L1355.43 330.83 L1358.09 332.23" fill="none" stroke="#d4d4d4" stroke-width="0.9" opacity="0.28"/><path d="M1595.9 105.32 L1594.67 102.58 L1593.45 99.84 L1591.53 97.54" fill="none" stroke="#8a8a8a" stroke-width="0.9" opacity="0.28"/><path d="M1261.69 362.52 L1260.91 365.42 L1262.02 368.21 L1262.35 371.19 L1259.75 372.68 L1258.49 375.4 L1256 377.09" fill="none" stroke="#8a8a8a" stroke-width="0.9" opacity="0.28"/><path d="M1458.61 288.74 L1456.13 287.05 L1453.19 286.45 L1450.32 285.55 L1447.63 284.24 L1445.6 282.03 L1443.15 280.29 L1442.58 277.35" fill="none" stroke="#d4d4d4" stroke-width="0.9" opacity="0.28"/><path d="M1253.47 374.58 L1254.08 371.65 L1253.14 368.8 L1252.36 365.9 L1252.99 362.97 L1253.57 360.03 L1254.03 357.06 L1256.62 355.54" fill="none" stroke="#d4d4d4" stroke-width="0.9" opacity="0.28"/><path d="M1430.07 85.57 L1433.06 85.38 L1435.49 83.61 L1438.28 82.52" fill="none" stroke="#8a8a8a" stroke-width="0.9" opacity="0.28"/><path d="M1231.41 388.31 L1229.96 390.94 L1227.12 391.91 L1224.21 392.62" fill="none" stroke="#d4d4d4" stroke-width="0.9" opacity="0.28"/><path d="M1326.34 276.03 L1329.32 276.36 L1331.93 274.88 L1334.92 274.65" fill="none" stroke="#8a8a8a" stroke-width="0.9" opacity="0.28"/><path d="M1368.91 133.84 L1366.66 131.85 L1366.55 128.85 L1365.01 126.28 L1362.88 124.17 L1360 123.31" fill="none" stroke="#d4d4d4" stroke-width="0.9" opacity="0.28"/><path d="M1590.06 76.88 L1592.14 74.73 L1594.56 72.94 L1596.11 70.38 L1596.42 67.39 L1596.42 64.39 L1599.16 63.16 L1602.15 63.36" fill="none" stroke="#8a8a8a" stroke-width="0.9" opacity="0.28"/><path d="M1391.85 99.9 L1392.44 96.96 L1394.21 94.54 L1397.21 94.5 L1400.15 93.88 L1401.47 91.19" fill="none" stroke="#d4d4d4" stroke-width="0.9" opacity="0.28"/><path d="M1430.4 313.69 L1427.76 315.11 L1425.26 316.77 L1422.27 317.01 L1419.34 316.37 L1416.47 317.27 L1413.64 316.27 L1410.87 317.42" fill="none" stroke="#8a8a8a" stroke-width="0.9" opacity="0.28"/><path d="M1354.94 326.73 L1357.57 328.17 L1360.4 329.17 L1362.48 331.33 L1364.98 333 L1366.58 335.54" fill="none" stroke="#d4d4d4" stroke-width="0.9" opacity="0.28"/><path d="M1375.06 175.5 L1373.85 178.24 L1374.64 181.14 L1377.63 181.03 L1380.05 179.25" fill="none" stroke="#8a8a8a" stroke-width="0.9" opacity="0.28"/><path d="M1434.23 238.86 L1436.42 240.91 L1438.62 242.96 L1440.86 244.95" fill="none" stroke="#d4d4d4" stroke-width="0.9" opacity="0.28"/><path d="M1405.15 314.23 L1402.21 313.63 L1399.23 313.96 L1396.28 314.5 L1395.77 317.46 L1396.95 320.22" fill="none" stroke="#d4d4d4" stroke-width="0.9" opacity="0.28"/><path d="M1399.15 104.25 L1401.99 103.29 L1404.73 104.52 L1406.93 106.55 L1409.74 107.61" fill="none" stroke="#d4d4d4" stroke-width="0.9" opacity="0.28"/><path d="M1361.05 140.72 L1359.47 138.16 L1356.73 136.96 L1353.88 136.02 L1350.9 135.64 L1349.71 132.89 L1348.3 130.24" fill="none" stroke="#d4d4d4" stroke-width="0.9" opacity="0.28"/><path d="M1339.81 337.11 L1339.35 340.08 L1339.4 343.08 L1339.78 346.05 L1339.91 349.05" fill="none" stroke="#d4d4d4" stroke-width="0.9" opacity="0.28"/><path d="M1475.95 254.87 L1473.14 255.9 L1470.3 256.89 L1467.32 257.19" fill="none" stroke="#d4d4d4" stroke-width="0.9" opacity="0.28"/><path d="M1272.15 284.51 L1269.82 286.4 L1267.4 288.18 L1270.16 289.35 L1272.65 287.67 L1274.3 285.17 L1276.37 282.99 L1279.13 281.83" fill="none" stroke="#8a8a8a" stroke-width="0.9" opacity="0.28"/><path d="M1573.83 112.57 L1576.8 113.05 L1579.71 113.75 L1581.88 115.82 L1583.78 118.14 L1583.67 121.14 L1583.26 124.11 L1580.97 126.05" fill="none" stroke="#d4d4d4" stroke-width="0.9" opacity="0.28"/><path d="M1343.21 252.67 L1341.44 250.25 L1341.54 247.25 L1344.29 246.05 L1347.29 245.89 L1348.41 248.67 L1347.64 251.57 L1346.58 254.38" fill="none" stroke="#d4d4d4" stroke-width="0.9" opacity="0.28"/><path d="M1392.8 275.66 L1394.29 278.26 L1393.32 281.1 L1394.4 283.9" fill="none" stroke="#d4d4d4" stroke-width="0.9" opacity="0.28"/><path d="M1344.24 244.72 L1346.91 243.36 L1349.65 244.6 L1351.04 247.25 L1351.93 250.12 L1351.64 253.1 L1348.96 254.47 L1346.34 255.93" fill="none" stroke="#d4d4d4" stroke-width="0.9" opacity="0.28"/><path d="M1402.21 50.74 L1400.6 48.21 L1399.82 45.31 L1400.29 42.35 L1400.9 39.41" fill="none" stroke="#d4d4d4" stroke-width="0.9" opacity="0.28"/><path d="M1541.33 38.79 L1538.45 37.95 L1535.45 37.96 L1532.54 38.71" fill="none" stroke="#d4d4d4" stroke-width="0.9" opacity="0.28"/><path d="M1497.02 22.24 L1499.01 24.49 L1502 24.62 L1504.92 25.32 L1507.89 25.77" fill="none" stroke="#d4d4d4" stroke-width="0.9" opacity="0.28"/><path d="M1393.15 141.38 L1390.53 142.84 L1387.66 143.7 L1386 146.2 L1383.01 146.44 L1380.32 145.11 L1377.36 145.57" fill="none" stroke="#8a8a8a" stroke-width="0.9" opacity="0.28"/><path d="M1475.52 76.41 L1476.56 73.6 L1474.07 71.92 L1471.12 71.42 L1468.81 69.5" fill="none" stroke="#d4d4d4" stroke-width="0.9" opacity="0.28"/><path d="M1393.91 77.72 L1395.72 80.11 L1397.84 82.23 L1400.64 83.32 L1402.87 81.32 L1405.02 79.22 L1404.78 76.23 L1404.86 73.23" fill="none" stroke="#d4d4d4" stroke-width="0.9" opacity="0.28"/><path d="M1394.95 269.14 L1392.74 267.11 L1390.31 268.86 L1388.27 271.06" fill="none" stroke="#d4d4d4" stroke-width="0.9" opacity="0.28"/><path d="M1453.91 362.18 L1451.92 359.93 L1450.46 357.31 L1447.63 356.31 L1447.38 353.32" fill="none" stroke="#d4d4d4" stroke-width="0.9" opacity="0.28"/><path d="M1542.55 112.02 L1539.55 111.97 L1536.85 113.28 L1534.01 112.33 L1531.03 112.65 L1528.04 112.96 L1525.12 112.28 L1522.27 113.22" fill="none" stroke="#d4d4d4" stroke-width="0.9" opacity="0.28"/><path d="M1411.45 376.28 L1411.12 379.26 L1411.47 382.24 L1410.32 385.01 L1407.34 384.6 L1404.72 383.14 L1402.11 381.67" fill="none" stroke="#d4d4d4" stroke-width="0.9" opacity="0.28"/><path d="M1311.52 264.66 L1308.99 263.04 L1306.72 261.08 L1304.03 262.4 L1302.81 265.15" fill="none" stroke="#d4d4d4" stroke-width="0.9" opacity="0.28"/><path d="M1268.92 310.34 L1266.96 308.06 L1266.72 305.07 L1265.23 302.47 L1264.17 299.66 L1262.49 297.17" fill="none" stroke="#8a8a8a" stroke-width="0.9" opacity="0.28"/><path d="M1566.31 32.11 L1568.96 30.7 L1571.91 31.23 L1574.87 31.71" fill="none" stroke="#d4d4d4" stroke-width="0.9" opacity="0.28"/><path d="M1518.67 99 L1520.78 96.87 L1522.61 94.49 L1524.97 96.33 L1523.79 99.09" fill="none" stroke="#d4d4d4" stroke-width="0.9" opacity="0.28"/><path d="M1486.43 258.58 L1489.32 259.38 L1492.32 259.29 L1495.31 259.14 L1498.24 258.49 L1497.5 255.59 L1496.04 252.97 L1494.71 250.28" fill="none" stroke="#d4d4d4" stroke-width="0.9" opacity="0.28"/><path d="M1552.57 49.46 L1555.38 48.4 L1558.3 49.09 L1561.18 49.96" fill="none" stroke="#8a8a8a" stroke-width="0.9" opacity="0.28"/><path d="M1449.25 76.46 L1450.57 73.77 L1450.3 70.78 L1448.91 68.12 L1450.71 65.72 L1453.42 64.44 L1455.74 62.54 L1457.06 59.84" fill="none" stroke="#d4d4d4" stroke-width="0.9" opacity="0.28"/><path d="M1439.43 267.91 L1436.45 268.24 L1433.67 267.11 L1432.12 264.54 L1431.79 261.55 L1433.51 259.09 L1434.49 256.26" fill="none" stroke="#d4d4d4" stroke-width="0.9" opacity="0.28"/><path d="M1313.53 201.92 L1315.71 199.85 L1316 196.87 L1317.39 194.21 L1319.59 192.17 L1319.53 189.17 L1319.1 186.2 L1320.2 183.41" fill="none" stroke="#d4d4d4" stroke-width="0.9" opacity="0.28"/><path d="M1473.85 66 L1473.72 69 L1470.87 69.93 L1468.1 68.78 L1465.11 68.45" fill="none" stroke="#d4d4d4" stroke-width="0.9" opacity="0.28"/><path d="M1467.75 112.11 L1469.79 109.91 L1471.35 107.34 L1474.34 107.63 L1476.98 109.06 L1479.82 108.12 L1482.8 108.53 L1485.79 108.31" fill="none" stroke="#8a8a8a" stroke-width="0.9" opacity="0.28"/><path d="M1496.94 72.94 L1499.04 70.8 L1501.69 69.4 L1504.66 69.01" fill="none" stroke="#d4d4d4" stroke-width="0.9" opacity="0.28"/><path d="M1438.37 168.1 L1440.93 166.54 L1441.35 163.57 L1440.79 160.62 L1443.19 158.82 L1444.31 156.04 L1445.44 153.26 L1444.62 150.38" fill="none" stroke="#d4d4d4" stroke-width="0.9" opacity="0.28"/><path d="M1284.63 248.21 L1282.7 245.91 L1279.91 244.8 L1276.93 245.08" fill="none" stroke="#d4d4d4" stroke-width="0.9" opacity="0.28"/><path d="M1265.03 379.9 L1264.13 377.04 L1265.51 374.38 L1266.84 371.69 L1269.16 369.78 L1271.99 368.8" fill="none" stroke="#d4d4d4" stroke-width="0.9" opacity="0.28"/><path d="M1451.61 293.98 L1452.3 296.9 L1451.62 299.82 L1450 302.34 L1450.38 305.31 L1450.72 308.3 L1451.49 311.19 L1452.55 314" fill="none" stroke="#d4d4d4" stroke-width="0.9" opacity="0.28"/><path d="M1593.98 76.58 L1590.99 76.29 L1588.23 75.11 L1585.32 75.84 L1582.33 75.98" fill="none" stroke="#d4d4d4" stroke-width="0.9" opacity="0.28"/><path d="M1423.8 182.6 L1420.95 183.54 L1417.97 183.27 L1414.98 182.94 L1412.03 183.44 L1410.23 185.84" fill="none" stroke="#d4d4d4" stroke-width="0.9" opacity="0.28"/><path d="M1349.08 376.65 L1349.86 373.75 L1350.8 370.9 L1350.17 367.97 L1347.7 366.28 L1344.98 367.55 L1342 367.22" fill="none" stroke="#d4d4d4" stroke-width="0.9" opacity="0.28"/></g><rect x="1155" y="9" width="560" height="389" fill="url(#semV)"/></g><g clip-path="url(#insclip)"><rect x="1477.2" y="234" width="237.4" height="164.2" fill="#595959"/><rect x="1477.2" y="234" width="237.4" height="164.2" fill="#fff" filter="url(#grain2)" opacity="0.16"/><ellipse cx="1620" cy="318" rx="75" ry="45" fill="#6a6a6a" filter="url(#blur3)" opacity="0.8"/><ellipse cx="1692" cy="275" rx="35" ry="40" fill="#686868" filter="url(#blur3)" opacity="0.8"/><ellipse cx="1545" cy="305" rx="28" ry="20" fill="#666" filter="url(#blur3)" opacity="0.8"/><g filter="url(#blur1)"><path d="M1515.97 243.31 L1519.71 237.83 L1521.88 231.56 L1524.04 225.3 L1526 218.96 L1527.62 212.53" fill="none" stroke="rgb(192,192,192)" stroke-width="0.84" opacity="0.24"/><path d="M1631.25 243.48 L1632.75 240.69 L1634.38 237.98 L1635.84 235.17 L1637.16 232.29 L1638.77 229.56" fill="none" stroke="rgb(152,152,152)" stroke-width="0.54" opacity="0.22"/><path d="M1651.75 341.92 L1653.28 339.88 L1654.76 337.79 L1656.38 335.82 L1658.29 334.12 L1660.3 332.54" fill="none" stroke="rgb(199,199,199)" stroke-width="0.64" opacity="0.26"/><path d="M1673.09 250.83 L1675.08 245.54 L1676.8 240.17 L1678.42 234.76 L1680.54 229.52 L1682.29 224.15" fill="none" stroke="rgb(193,193,193)" stroke-width="0.82" opacity="0.34"/><path d="M1627.08 301.45 L1628.85 298.22 L1630.65 294.99 L1632.78 291.98 L1634.58 288.76 L1636.45 285.58" fill="none" stroke="rgb(158,158,158)" stroke-width="0.64" opacity="0.4"/><path d="M1664.95 350.94 L1670.83 342.73 L1676.63 334.44 L1682.67 326.34 L1689.55 318.93 L1695.17 310.53" fill="none" stroke="rgb(155,155,155)" stroke-width="0.68" opacity="0.22"/><path d="M1474.93 369.14 L1478.33 363.57 L1482.56 358.59 L1486.23 353.19 L1489.66 347.64 L1493.37 342.27" fill="none" stroke="rgb(181,181,181)" stroke-width="0.85" opacity="0.36"/><path d="M1647.5 272.81 L1652.28 264.4 L1655.42 255.25 L1657.98 245.92 L1662.26 237.24 L1667.22 228.93" fill="none" stroke="rgb(170,170,170)" stroke-width="0.63" opacity="0.25"/><path d="M1685.46 291.37 L1687.4 285.29 L1689.2 279.16 L1691.76 273.32 L1693.75 267.26 L1695.79 261.21" fill="none" stroke="rgb(148,148,148)" stroke-width="0.76" opacity="0.36"/><path d="M1680.54 330.73 L1686.21 321.17 L1692.02 311.7 L1696.02 301.34 L1700.23 291.05 L1704.81 280.93" fill="none" stroke="rgb(164,164,164)" stroke-width="0.7" opacity="0.36"/><path d="M1584.18 333.61 L1590.16 323.54 L1596.98 314.02 L1603.56 304.33 L1610.68 295.03 L1618.28 286.11" fill="none" stroke="rgb(171,171,171)" stroke-width="0.87" opacity="0.33"/><path d="M1528.15 361.2 L1531.86 355.01 L1535.5 348.79 L1539.34 342.68 L1543.22 336.59 L1546.73 330.29" fill="none" stroke="rgb(181,181,181)" stroke-width="0.76" opacity="0.21"/><path d="M1529.39 360 L1530.98 358.01 L1532.86 356.29 L1534.88 354.73 L1536.9 353.17 L1538.84 351.51" fill="none" stroke="rgb(172,172,172)" stroke-width="0.63" opacity="0.37"/><path d="M1711.73 301.3 L1713.17 297.07 L1714.64 292.85 L1716.18 288.65 L1717.51 284.38 L1718.64 280.06" fill="none" stroke="rgb(197,197,197)" stroke-width="0.62" opacity="0.4"/><path d="M1513.55 290.85 L1517.61 283.11 L1521.93 275.52 L1525.34 267.48 L1527.88 259.12 L1530.37 250.75" fill="none" stroke="rgb(134,134,134)" stroke-width="0.73" opacity="0.37"/><path d="M1614.92 342.63 L1619.98 336.44 L1625.71 330.86 L1631.49 325.34 L1636.74 319.31 L1641.75 313.07" fill="none" stroke="rgb(145,145,145)" stroke-width="0.82" opacity="0.26"/><path d="M1667 393.48 L1668.78 386.25 L1671.6 379.37 L1674.33 372.44 L1677.19 365.57 L1679.99 358.67" fill="none" stroke="rgb(164,164,164)" stroke-width="0.58" opacity="0.29"/><path d="M1640.38 319.99 L1641.27 317.55 L1641.83 315.01 L1641.82 312.41 L1642 309.82 L1642.15 307.23" fill="none" stroke="rgb(151,151,151)" stroke-width="0.74" opacity="0.35"/><path d="M1582.39 282.56 L1585.02 277.95 L1587.02 273.04 L1588.35 267.9 L1589.08 262.65 L1589.9 257.41" fill="none" stroke="rgb(131,131,131)" stroke-width="0.8" opacity="0.33"/><path d="M1668.62 324.08 L1672.37 320.61 L1675.93 316.95 L1679.18 313.01 L1682.86 309.47 L1686.53 305.91" fill="none" stroke="rgb(138,138,138)" stroke-width="0.64" opacity="0.33"/><path d="M1642.98 257.88 L1646.12 248.86 L1649.57 239.95 L1653.62 231.3 L1657.39 222.52 L1661.71 214" fill="none" stroke="rgb(183,183,183)" stroke-width="0.83" opacity="0.28"/><path d="M1523.32 252.34 L1525.9 247.18 L1528.61 242.09 L1530.96 236.83 L1532.89 231.4 L1535.02 226.05" fill="none" stroke="rgb(136,136,136)" stroke-width="0.51" opacity="0.36"/><path d="M1541.36 280.97 L1543.81 272.68 L1546.32 264.4 L1548.99 256.18 L1551.25 247.84 L1553.35 239.45" fill="none" stroke="rgb(158,158,158)" stroke-width="0.78" opacity="0.22"/><path d="M1540.96 393.9 L1546.29 383.72 L1553.14 374.49 L1559.72 365.07 L1565.58 355.19 L1573.33 346.71" fill="none" stroke="rgb(179,179,179)" stroke-width="0.74" opacity="0.2"/><path d="M1588.86 389.94 L1595.41 382.65 L1602.28 375.65 L1608.58 368.14 L1613.64 359.75 L1619.6 351.97" fill="none" stroke="rgb(152,152,152)" stroke-width="0.57" opacity="0.27"/><path d="M1581.94 256.74 L1587.7 250.79 L1593.68 245.05 L1599.58 239.24 L1606.07 234.09 L1611.14 227.54" fill="none" stroke="rgb(198,198,198)" stroke-width="0.78" opacity="0.33"/><path d="M1662.41 320.46 L1666.32 312.12 L1669.61 303.51 L1670.53 294.34 L1672.9 285.43 L1674.22 276.31" fill="none" stroke="rgb(195,195,195)" stroke-width="0.88" opacity="0.38"/><path d="M1713.58 269.75 L1718.68 260.49 L1724.45 251.64 L1728.74 241.98 L1733.21 232.41 L1737.43 222.72" fill="none" stroke="rgb(174,174,174)" stroke-width="0.54" opacity="0.25"/><path d="M1544.39 320.53 L1545.83 316.47 L1547.33 312.44 L1548.71 308.36 L1550.72 304.55 L1553.27 301.08" fill="none" stroke="rgb(141,141,141)" stroke-width="0.86" opacity="0.23"/><path d="M1609.52 404.04 L1610.98 400.98 L1612.81 398.13 L1614.2 395.03 L1615.63 391.96 L1617.24 388.97" fill="none" stroke="rgb(191,191,191)" stroke-width="0.78" opacity="0.21"/><path d="M1558.11 391.95 L1560.9 385.87 L1563.39 379.67 L1565.24 373.24 L1568.11 367.2 L1570.88 361.11" fill="none" stroke="rgb(181,181,181)" stroke-width="0.68" opacity="0.24"/><path d="M1711.79 349.22 L1714.52 346.1 L1717.11 342.86 L1719.25 339.3 L1721.95 336.16 L1725.08 333.43" fill="none" stroke="rgb(137,137,137)" stroke-width="0.58" opacity="0.31"/><path d="M1601.62 385.73 L1605.82 379.19 L1609.69 372.46 L1614.46 366.33 L1618.33 359.6 L1621.89 352.69" fill="none" stroke="rgb(179,179,179)" stroke-width="0.8" opacity="0.37"/><path d="M1715.66 338.58 L1719.41 333.35 L1721.84 327.39 L1724.19 321.4 L1726.32 315.33 L1727.89 309.09" fill="none" stroke="rgb(174,174,174)" stroke-width="0.71" opacity="0.3"/><path d="M1666.36 249.07 L1674.15 241.5 L1681.36 233.38 L1688.72 225.39 L1696.47 217.78 L1705.1 211.18" fill="none" stroke="rgb(194,194,194)" stroke-width="0.86" opacity="0.27"/><path d="M1475.72 287.23 L1478.59 282.38 L1481.81 277.74 L1484.99 273.08 L1487.95 268.28 L1490.32 263.17" fill="none" stroke="rgb(188,188,188)" stroke-width="0.55" opacity="0.29"/><path d="M1610.48 370.79 L1614.88 361.13 L1619.85 351.74 L1626 343.09 L1631.93 334.28 L1638.3 325.79" fill="none" stroke="rgb(144,144,144)" stroke-width="0.52" opacity="0.36"/><path d="M1672.46 248.46 L1675.48 241.9 L1677.9 235.09 L1680.48 228.34 L1683.14 221.62 L1685.05 214.65" fill="none" stroke="rgb(196,196,196)" stroke-width="0.51" opacity="0.22"/><path d="M1521.5 378.5 L1523.82 374.75 L1526.05 370.96 L1528.19 367.11 L1529.62 362.95 L1531.02 358.78" fill="none" stroke="rgb(161,161,161)" stroke-width="0.82" opacity="0.25"/><path d="M1598.62 262.27 L1600.39 251.71 L1603.14 241.35 L1604.42 230.72 L1605.32 220.04 L1606.48 209.39" fill="none" stroke="rgb(142,142,142)" stroke-width="0.67" opacity="0.29"/><path d="M1550.55 285.93 L1553.5 281.17 L1555.42 275.9 L1556.94 270.51 L1558.14 265.03 L1559.62 259.62" fill="none" stroke="rgb(192,192,192)" stroke-width="0.57" opacity="0.3"/><path d="M1618.01 334.09 L1619.26 330.28 L1620.37 326.42 L1621.59 322.6 L1623.34 318.98 L1624.88 315.28" fill="none" stroke="rgb(177,177,177)" stroke-width="0.66" opacity="0.4"/><path d="M1723.28 321.59 L1728.54 312.1 L1734.14 302.81 L1737.57 292.52 L1741.76 282.51 L1747.53 273.32" fill="none" stroke="rgb(153,153,153)" stroke-width="0.74" opacity="0.26"/><path d="M1583.01 391.16 L1587.34 382.86 L1592.26 374.88 L1595.9 366.25 L1599.81 357.74 L1603.7 349.21" fill="none" stroke="rgb(150,150,150)" stroke-width="0.87" opacity="0.26"/><path d="M1674.35 387.12 L1676.05 383.62 L1678.29 380.44 L1680.62 377.33 L1682.83 374.12 L1684.58 370.65" fill="none" stroke="rgb(133,133,133)" stroke-width="0.71" opacity="0.27"/><path d="M1677.39 266.78 L1678.82 265.16 L1680.42 263.71 L1681.99 262.21 L1683.69 260.88 L1685.42 259.58" fill="none" stroke="rgb(195,195,195)" stroke-width="0.53" opacity="0.27"/><path d="M1516.7 402.63 L1523.46 396.76 L1530.45 391.17 L1537.42 385.57 L1544.64 380.28 L1552.19 375.47" fill="none" stroke="rgb(133,133,133)" stroke-width="0.62" opacity="0.29"/><path d="M1675.25 244.07 L1677.02 239.17 L1679.19 234.42 L1681.53 229.76 L1684.42 225.41 L1687.27 221.05" fill="none" stroke="rgb(159,159,159)" stroke-width="0.7" opacity="0.28"/><path d="M1520.01 391.39 L1521.67 383.54 L1524.07 375.88 L1526.69 368.29 L1530.04 361.01 L1533.21 353.63" fill="none" stroke="rgb(144,144,144)" stroke-width="0.57" opacity="0.27"/><path d="M1698.47 383.31 L1704.3 375.27 L1709.96 367.1 L1715.36 358.76 L1719.78 349.86 L1725.68 341.86" fill="none" stroke="rgb(169,169,169)" stroke-width="0.85" opacity="0.27"/><path d="M1532.37 379.62 L1533.84 377.92 L1535.3 376.21 L1536.78 374.51 L1538.16 372.74 L1539.43 370.88" fill="none" stroke="rgb(185,185,185)" stroke-width="0.67" opacity="0.38"/><path d="M1541.87 262.28 L1543.35 260.05 L1544.86 257.83 L1546.08 255.45 L1547.28 253.06 L1548.94 250.95" fill="none" stroke="rgb(173,173,173)" stroke-width="0.7" opacity="0.39"/><path d="M1623.9 269.91 L1628.29 266.83 L1632.5 263.52 L1636.88 260.42 L1640.94 256.92 L1644.69 253.09" fill="none" stroke="rgb(195,195,195)" stroke-width="0.66" opacity="0.29"/><path d="M1642.87 396.44 L1648.93 388.01 L1654.97 379.56 L1660.43 370.73 L1666.81 362.54 L1673.51 354.61" fill="none" stroke="rgb(144,144,144)" stroke-width="0.69" opacity="0.36"/><path d="M1645.49 247.88 L1650.21 238.21 L1656.96 229.83 L1662.68 220.72 L1666.88 210.81 L1671.3 201" fill="none" stroke="rgb(162,162,162)" stroke-width="0.64" opacity="0.45"/><path d="M1708.62 397.09 L1714.43 387.44 L1720.72 378.11 L1727.82 369.37 L1735.11 360.8 L1742.73 352.51" fill="none" stroke="rgb(188,188,188)" stroke-width="0.82" opacity="0.34"/><path d="M1647.62 252.85 L1651.18 248.22 L1654.44 243.36 L1657.27 238.25 L1661.12 233.85 L1665.22 229.68" fill="none" stroke="rgb(171,171,171)" stroke-width="0.86" opacity="0.43"/><path d="M1544.96 390.44 L1550.19 385.44 L1555.31 380.33 L1559.97 374.81 L1563.76 368.64 L1567.23 362.3" fill="none" stroke="rgb(197,197,197)" stroke-width="0.7" opacity="0.44"/><path d="M1478.99 341.01 L1480.82 336.55 L1482.64 332.09 L1483.78 327.41 L1484.83 322.7 L1486.21 318.09" fill="none" stroke="rgb(183,183,183)" stroke-width="0.6" opacity="0.39"/><path d="M1668.32 318.26 L1671.81 309.37 L1674.87 300.32 L1676.77 290.96 L1678.86 281.65 L1681.36 272.43" fill="none" stroke="rgb(176,176,176)" stroke-width="0.83" opacity="0.38"/><path d="M1485.98 391.67 L1488.88 382.49 L1493.72 374.18 L1499.53 366.5 L1504.14 358.06 L1506.42 348.71" fill="none" stroke="rgb(130,130,130)" stroke-width="0.55" opacity="0.38"/><path d="M1516.66 329.6 L1519.32 327.08 L1522.14 324.74 L1524.79 322.21 L1527.8 320.13 L1530.74 317.95" fill="none" stroke="rgb(155,155,155)" stroke-width="0.89" opacity="0.33"/><path d="M1573.57 310.53 L1576.38 306.34 L1579.05 302.07 L1581.34 297.57 L1583.72 293.13 L1585.46 288.4" fill="none" stroke="rgb(172,172,172)" stroke-width="0.5" opacity="0.27"/><path d="M1664.16 369 L1668.57 360.15 L1672.63 351.12 L1678.04 342.83 L1684.23 335.11 L1689.96 327.04" fill="none" stroke="rgb(157,157,157)" stroke-width="0.55" opacity="0.44"/><path d="M1502.79 370.37 L1505.61 367.41 L1508.47 364.5 L1511.65 361.92 L1514.9 359.45 L1518.39 357.31" fill="none" stroke="rgb(158,158,158)" stroke-width="0.87" opacity="0.36"/><path d="M1704.71 247.29 L1708.46 243.06 L1712.34 238.96 L1715.47 234.26 L1718.52 229.5 L1721.56 224.74" fill="none" stroke="rgb(132,132,132)" stroke-width="0.7" opacity="0.29"/><path d="M1696.36 295.63 L1697.75 292.33 L1699.12 289.03 L1700.52 285.73 L1702.23 282.59 L1704.62 279.93" fill="none" stroke="rgb(182,182,182)" stroke-width="0.52" opacity="0.43"/><path d="M1693.15 319.38 L1696.17 314.93 L1698.24 309.98 L1700.34 305.03 L1702.62 300.16 L1704.59 295.16" fill="none" stroke="rgb(192,192,192)" stroke-width="0.76" opacity="0.27"/><path d="M1581.37 271.92 L1587.47 262.32 L1592.26 252.01 L1596.68 241.53 L1602.79 231.94 L1608.64 222.19" fill="none" stroke="rgb(187,187,187)" stroke-width="0.61" opacity="0.3"/><path d="M1539.71 302.8 L1541.95 297.94 L1544.39 293.17 L1547.04 288.51 L1549.43 283.72 L1551.51 278.79" fill="none" stroke="rgb(154,154,154)" stroke-width="0.77" opacity="0.38"/><path d="M1657.59 276.74 L1660.94 274.15 L1664.4 271.73 L1667.99 269.48 L1671.26 266.8 L1674.5 264.08" fill="none" stroke="rgb(161,161,161)" stroke-width="0.84" opacity="0.29"/><path d="M1658.4 292.43 L1662.4 285.43 L1666.07 278.27 L1668.66 270.64 L1671.44 263.08 L1674.91 255.81" fill="none" stroke="rgb(156,156,156)" stroke-width="0.56" opacity="0.42"/><path d="M1499.28 398.67 L1507.49 390.92 L1516.53 384.16 L1526.28 378.46 L1535.81 372.39 L1545.56 366.71" fill="none" stroke="rgb(139,139,139)" stroke-width="0.55" opacity="0.37"/><path d="M1505.4 359.37 L1509.22 354.3 L1513.71 349.81 L1518.34 345.46 L1522.81 340.95 L1526.06 335.49" fill="none" stroke="rgb(164,164,164)" stroke-width="0.59" opacity="0.28"/><path d="M1492.77 337.28 L1497.42 326.26 L1503.95 316.23 L1509.25 305.5 L1513.19 294.21 L1518.23 283.36" fill="none" stroke="rgb(196,196,196)" stroke-width="0.58" opacity="0.21"/><path d="M1695.99 295.25 L1699.49 290.27 L1702.62 285.04 L1705.38 279.6 L1707.68 273.96 L1710.21 268.42" fill="none" stroke="rgb(143,143,143)" stroke-width="0.66" opacity="0.3"/><path d="M1482.46 409.72 L1488.25 401.06 L1495.34 393.43 L1503.12 386.49 L1511.21 379.93 L1519.68 373.87" fill="none" stroke="rgb(184,184,184)" stroke-width="0.79" opacity="0.43"/><path d="M1672.62 296.48 L1675.36 289.98 L1679.23 284.09 L1682.46 277.82 L1685.93 271.68 L1688.5 265.11" fill="none" stroke="rgb(153,153,153)" stroke-width="0.59" opacity="0.29"/><path d="M1621.54 318.95 L1626.06 314.35 L1631.34 310.64 L1636.26 306.47 L1641.06 302.16 L1646.23 298.3" fill="none" stroke="rgb(181,181,181)" stroke-width="0.68" opacity="0.41"/><path d="M1652.32 328.62 L1655.77 321.34 L1659.22 314.07 L1663.05 306.98 L1667.82 300.49 L1672.83 294.19" fill="none" stroke="rgb(136,136,136)" stroke-width="0.79" opacity="0.4"/><path d="M1530.6 335.9 L1536.56 327.82 L1542.29 319.57 L1548.61 311.77 L1556.01 304.97 L1561.52 296.58" fill="none" stroke="rgb(131,131,131)" stroke-width="0.87" opacity="0.3"/><path d="M1481.49 257.58 L1483.97 250.08 L1487.04 242.8 L1490.71 235.81 L1493.59 228.45 L1495.71 220.84" fill="none" stroke="rgb(189,189,189)" stroke-width="0.53" opacity="0.3"/><path d="M1713.47 254.73 L1716.36 247.19 L1718.37 239.37 L1719.87 231.43 L1722.66 223.86 L1725.78 216.41" fill="none" stroke="rgb(193,193,193)" stroke-width="0.71" opacity="0.26"/><path d="M1631.07 255.71 L1633.57 250.89 L1636.11 246.1 L1638.93 241.47 L1641.01 236.46 L1642.71 231.31" fill="none" stroke="rgb(167,167,167)" stroke-width="0.71" opacity="0.41"/><path d="M1597.22 405.75 L1598.24 403.46 L1599.11 401.1 L1600.01 398.76 L1600.92 396.41 L1601.96 394.13" fill="none" stroke="rgb(167,167,167)" stroke-width="0.66" opacity="0.22"/><path d="M1492.63 387.05 L1494.04 384.03 L1495.25 380.92 L1496.41 377.8 L1497.37 374.6 L1498.11 371.35" fill="none" stroke="rgb(159,159,159)" stroke-width="0.55" opacity="0.35"/><path d="M1589.23 357.73 L1590.04 353.8 L1590.47 349.81 L1590.56 345.8 L1590.48 341.79 L1589.48 337.9" fill="none" stroke="rgb(156,156,156)" stroke-width="0.82" opacity="0.21"/><path d="M1518.78 402.62 L1520.64 397.48 L1522.61 392.38 L1525.22 387.57 L1527.71 382.7 L1530.6 378.06" fill="none" stroke="rgb(159,159,159)" stroke-width="0.71" opacity="0.36"/><path d="M1601.9 282.61 L1605.87 276.16 L1610.94 270.53 L1616.32 265.21 L1621.58 259.76 L1627.2 254.68" fill="none" stroke="rgb(190,190,190)" stroke-width="0.64" opacity="0.34"/><path d="M1565.95 387.91 L1571.01 380.59 L1577.16 374.15 L1584.14 368.62 L1591.5 363.61 L1599.05 358.89" fill="none" stroke="rgb(150,150,150)" stroke-width="0.57" opacity="0.28"/></g><g filter="url(#blur2)"><path d="M1557.2 351.85 L1560.34 351.14 L1561.55 351.21 L1563.34 349.48 L1566.08 348.85 L1568.71 348.16 L1572.34 347.77 L1575 346.43 L1579.52 346.84 L1581.57 347.29 L1585.06 347.61 L1588.36 348.81 L1592.45 350.32 L1595.28 350.09 L1598.5 350.45 L1602.11 350.47 L1605 350.95 L1609.23 351.36 L1613.59 352.1 L1617.71 352.45 L1621.86 351.79 L1626.55 351.66 L1631.12 351.58 L1636.01 350.72 L1639.85 349.95 L1645.64 349.35 L1649.41 348.19 L1654.74 348.27 L1659.95 348.02 L1665.3 345.81 L1669.8 344.94 L1674.89 342.88 L1680.26 342.01 L1683.54 338.97 L1684.71 336.36 L1688.16 333.69 L1692.82 329.81 L1694.23 328.37 L1697.89 327.91 L1699.98 326.89 L1703.94 326.16 L1706.59 324.85 L1709.96 323.48 L1712.43 321.4 L1716 320" fill="none" stroke="#c0c0c0" stroke-width="3.5" opacity="0.3"/><path d="M1493.66 300.68 L1497.26 300.52 L1499.46 300.19 L1501.98 300.6 L1504.8 299.78 L1508.47 299.73 L1511.86 299.08 L1513.96 298.78 L1518.22 298.46 L1520.12 298.88 L1522.45 297.83 L1525.52 297.03 L1528.37 296.87 L1529.2 294.72 L1532.71 294.51 L1534.08 291.74 L1537.65 290.27 L1538.83 287.86 L1540.2 286.66 L1542.83 284.49 L1544.24 284.14 L1546.07 282.16 L1547.32 280.63 L1549.17 280.24 L1550 278" fill="none" stroke="#c0c0c0" stroke-width="3.5" opacity="0.3"/><path d="M1560.93 355.32 L1562.34 357.41 L1564.78 359.16 L1566.55 359.96 L1567.28 362.39 L1570.96 363.47 L1573.6 364.41 L1577.63 366.71 L1579.52 368.18 L1583.14 369.23 L1587 369.98 L1588.42 371.02 L1591.71 372.25 L1596.59 372.91 L1600.74 373.69 L1605.27 374.48 L1609.86 374.5 L1613.97 373.93 L1618.15 373.7 L1621.46 372.8 L1624.97 370.93 L1627.55 368.63 L1629.43 365.71 L1630.94 362.9 L1632.53 359.92 L1634.96 357.31 L1635.93 354.74 L1638.36 353.02 L1640 350" fill="none" stroke="#c0c0c0" stroke-width="3.5" opacity="0.3"/><path d="M1555.38 320.13 L1557.05 318.41 L1560.01 315.89 L1562.91 314.28 L1565.22 311.48 L1568.48 309.48 L1572.59 308.51 L1576.67 306.85 L1579.83 305.95 L1582.04 303.65 L1584.73 303.74 L1587.34 302.55 L1589.5 302.66 L1592.22 300.51 L1594.94 299.64 L1597.4 299.6 L1600 298" fill="none" stroke="#c0c0c0" stroke-width="3.5" opacity="0.3"/><path d="M1627.8 379.98 L1629.33 377.91 L1631.37 376.24 L1632.35 373.58 L1633.94 372.37 L1635.99 370.44 L1637.19 369.45 L1639.33 366.92 L1642 366" fill="none" stroke="#c0c0c0" stroke-width="3.5" opacity="0.3"/><path d="M1639.83 350.02 L1640.77 344.66 L1641.36 339.73 L1641.44 334.89 L1642.69 330.19 L1643.18 326.93 L1643.81 323.4 L1644.29 319.81 L1644 316" fill="none" stroke="#c0c0c0" stroke-width="3.5" opacity="0.3"/><path d="M1529.93 305.61 L1532.08 307.48 L1535.39 309.87 L1537.82 312.14 L1539.76 315.25 L1544.07 318.04 L1547.47 320.13 L1551.53 322.71 L1554.41 324.74 L1556.9 328.19 L1557.78 332.31 L1559.2 335.9 L1560 340" fill="none" stroke="#c0c0c0" stroke-width="3.5" opacity="0.3"/><path d="M1600.02 297.09 L1602.98 296.48 L1605.32 294.53 L1608.68 291.98 L1610.75 290.49 L1614.86 289.01 L1617.92 288.05 L1622.26 287.52 L1625.4 286.92 L1628.91 285.02 L1632.69 284.66 L1636.54 281.98 L1640 280" fill="none" stroke="#c0c0c0" stroke-width="3.5" opacity="0.3"/><path d="M1659.79 347.45 L1662.61 349.48 L1663.38 354.45 L1666.19 356.81 L1668.25 360.49 L1669.36 362.9 L1670.93 366.01 L1670.61 368.75 L1672 372" fill="none" stroke="#c0c0c0" stroke-width="3.5" opacity="0.3"/></g><g filter="url(#blur1)"><path d="M1557.2 351.85 L1560.34 351.14 L1561.55 351.21 L1563.34 349.48 L1566.08 348.85 L1568.71 348.16 L1572.34 347.77 L1575 346.43 L1579.52 346.84 L1581.57 347.29 L1585.06 347.61 L1588.36 348.81 L1592.45 350.32 L1595.28 350.09 L1598.5 350.45 L1602.11 350.47 L1605 350.95 L1609.23 351.36 L1613.59 352.1 L1617.71 352.45 L1621.86 351.79 L1626.55 351.66 L1631.12 351.58 L1636.01 350.72 L1639.85 349.95 L1645.64 349.35 L1649.41 348.19 L1654.74 348.27 L1659.95 348.02 L1665.3 345.81 L1669.8 344.94 L1674.89 342.88 L1680.26 342.01 L1683.54 338.97 L1684.71 336.36 L1688.16 333.69 L1692.82 329.81 L1694.23 328.37 L1697.89 327.91 L1699.98 326.89 L1703.94 326.16 L1706.59 324.85 L1709.96 323.48 L1712.43 321.4 L1716 320" fill="none" stroke="#dcdcdc" stroke-width="0.9" opacity="0.5"/><path d="M1493.66 300.68 L1497.26 300.52 L1499.46 300.19 L1501.98 300.6 L1504.8 299.78 L1508.47 299.73 L1511.86 299.08 L1513.96 298.78 L1518.22 298.46 L1520.12 298.88 L1522.45 297.83 L1525.52 297.03 L1528.37 296.87 L1529.2 294.72 L1532.71 294.51 L1534.08 291.74 L1537.65 290.27 L1538.83 287.86 L1540.2 286.66 L1542.83 284.49 L1544.24 284.14 L1546.07 282.16 L1547.32 280.63 L1549.17 280.24 L1550 278" fill="none" stroke="#dcdcdc" stroke-width="0.9" opacity="0.5"/><path d="M1560.93 355.32 L1562.34 357.41 L1564.78 359.16 L1566.55 359.96 L1567.28 362.39 L1570.96 363.47 L1573.6 364.41 L1577.63 366.71 L1579.52 368.18 L1583.14 369.23 L1587 369.98 L1588.42 371.02 L1591.71 372.25 L1596.59 372.91 L1600.74 373.69 L1605.27 374.48 L1609.86 374.5 L1613.97 373.93 L1618.15 373.7 L1621.46 372.8 L1624.97 370.93 L1627.55 368.63 L1629.43 365.71 L1630.94 362.9 L1632.53 359.92 L1634.96 357.31 L1635.93 354.74 L1638.36 353.02 L1640 350" fill="none" stroke="#dcdcdc" stroke-width="0.9" opacity="0.5"/><path d="M1555.38 320.13 L1557.05 318.41 L1560.01 315.89 L1562.91 314.28 L1565.22 311.48 L1568.48 309.48 L1572.59 308.51 L1576.67 306.85 L1579.83 305.95 L1582.04 303.65 L1584.73 303.74 L1587.34 302.55 L1589.5 302.66 L1592.22 300.51 L1594.94 299.64 L1597.4 299.6 L1600 298" fill="none" stroke="#dcdcdc" stroke-width="0.9" opacity="0.5"/><path d="M1627.8 379.98 L1629.33 377.91 L1631.37 376.24 L1632.35 373.58 L1633.94 372.37 L1635.99 370.44 L1637.19 369.45 L1639.33 366.92 L1642 366" fill="none" stroke="#dcdcdc" stroke-width="0.9" opacity="0.5"/><path d="M1639.83 350.02 L1640.77 344.66 L1641.36 339.73 L1641.44 334.89 L1642.69 330.19 L1643.18 326.93 L1643.81 323.4 L1644.29 319.81 L1644 316" fill="none" stroke="#dcdcdc" stroke-width="0.9" opacity="0.5"/><path d="M1529.93 305.61 L1532.08 307.48 L1535.39 309.87 L1537.82 312.14 L1539.76 315.25 L1544.07 318.04 L1547.47 320.13 L1551.53 322.71 L1554.41 324.74 L1556.9 328.19 L1557.78 332.31 L1559.2 335.9 L1560 340" fill="none" stroke="#dcdcdc" stroke-width="0.9" opacity="0.5"/><path d="M1600.02 297.09 L1602.98 296.48 L1605.32 294.53 L1608.68 291.98 L1610.75 290.49 L1614.86 289.01 L1617.92 288.05 L1622.26 287.52 L1625.4 286.92 L1628.91 285.02 L1632.69 284.66 L1636.54 281.98 L1640 280" fill="none" stroke="#dcdcdc" stroke-width="0.9" opacity="0.5"/><path d="M1659.79 347.45 L1662.61 349.48 L1663.38 354.45 L1666.19 356.81 L1668.25 360.49 L1669.36 362.9 L1670.93 366.01 L1670.61 368.75 L1672 372" fill="none" stroke="#dcdcdc" stroke-width="0.9" opacity="0.5"/></g><ellipse cx="1632" cy="372" rx="2.5" ry="2" fill="#e8e8e8" opacity="0.8" filter="url(#blur1)"/></g><rect x="1477.2" y="234" width="237.4" height="164.2" fill="none" stroke="#d6d400" stroke-width="1.2"/><rect x="1469.5" y="107.5" width="44.7" height="37.8" rx="1" fill="none" stroke="#f0f000" stroke-width="1.3" stroke-dasharray="1.2 0.85"/><line x1="1491.8" y1="145.4" x2="1491.8" y2="232" stroke="#e6e600" stroke-width="1.2"/><path d="M1491.8 234 L1489.5 229.5 L1494.1 229.5 Z" fill="#e6e600" stroke="none" stroke-width="1"/><text x="1199" y="371.2" textLength="48" lengthAdjust="spacingAndGlyphs" style='font-family:"Liberation Serif", "Times New Roman", serif;font-size:17.5px;font-weight:bold;font-style:normal' fill="#44ff44">10 μm</text><line x1="1214.3" y1="383.4" x2="1231.8" y2="383.4" stroke="#44ee44" stroke-width="1"/><line x1="1214.3" y1="379.2" x2="1214.3" y2="388.3" stroke="#44ee44" stroke-width="1"/><line x1="1231.8" y1="379.2" x2="1231.8" y2="388.3" stroke="#44ee44" stroke-width="1"/><text x="1485.7" y="375.1" textLength="37.6" lengthAdjust="spacingAndGlyphs" style='font-family:"Liberation Serif", "Times New Roman", serif;font-size:16px;font-weight:bold;font-style:normal' fill="#44ff44">1 μm</text><line x1="1496.3" y1="385" x2="1506.2" y2="385" stroke="#44ee44" stroke-width="1"/><line x1="1496.3" y1="382.6" x2="1496.3" y2="387.4" stroke="#44ee44" stroke-width="1"/><line x1="1506.2" y1="382.6" x2="1506.2" y2="387.4" stroke="#44ee44" stroke-width="1"/><text x="281.6" y="456.4" text-anchor="middle" style='font-family:"Liberation Serif", "Times New Roman", serif;font-size:41px;font-weight:normal;font-style:normal' fill="#000">(a)</text><text x="858" y="456.3" text-anchor="middle" style='font-family:"Liberation Serif", "Times New Roman", serif;font-size:41px;font-weight:normal;font-style:normal' fill="#000">(b)</text><text x="1434.2" y="456.4" text-anchor="middle" style='font-family:"Liberation Serif", "Times New Roman", serif;font-size:41px;font-weight:normal;font-style:normal' fill="#000">(c)</text><text x="281.5" y="962.5" text-anchor="middle" style='font-family:"Liberation Serif", "Times New Roman", serif;font-size:41px;font-weight:normal;font-style:normal' fill="#000">(d)</text><text x="857.9" y="962.5" text-anchor="middle" style='font-family:"Liberation Serif", "Times New Roman", serif;font-size:41px;font-weight:normal;font-style:normal' fill="#000">(e)</text><text x="1433.7" y="962.5" text-anchor="middle" style='font-family:"Liberation Serif", "Times New Roman", serif;font-size:41px;font-weight:normal;font-style:normal' fill="#000">(f)</text></svg>
</body></html>
